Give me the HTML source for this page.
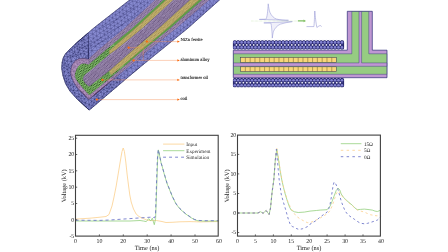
<!DOCTYPE html>
<html><head><meta charset="utf-8"><title>figure</title>
<style>html,body{margin:0;padding:0;background:#fff;overflow:hidden}svg{display:block}</style></head>
<body>
<svg width="448" height="252" viewBox="0 0 448 252">
<rect width="448" height="252" fill="#fff"/>
<defs>
<clipPath id="clip3d"><rect x="0" y="0" width="224" height="126"/></clipPath>
</defs>
<g clip-path="url(#clip3d)">
<path d="M137.3 -6.0L129.6 0.0L93.8 28.0L75.3 44.0L68.7 50.3L65.3 54.0L63.1 58.0L62.1 62.6L61.6 68.0L62.4 72.6L63.0 76.0L65.5 83.6L70.0 91.2L76.3 98.2L83.3 104.6L87.1 108.0L89.2 110.2L136.5 70.0L188.1 28.0L219.5 0.0L226.2 -6.0Z" fill="#878ad1" stroke="#23245c" stroke-width="0.5" stroke-linejoin="round"/>
<path d="M97.9 50.6l3.3 -2.8M117.8 23.5l0.4 3.9M88.5 50.2l0.1 4.4M125.9 6.1l-3.2 -0.7M96.7 36.0l0.7 4.0M119.2 8.1l-3.5 2.7M118.3 27.3l-0.1 6.5M133.9 9.2l0.9 4.6M130.6 8.2l3.4 1.0M90.9 45.7l-2.5 4.5M119.4 12.4l3.2 -2.6M130.9 12.1l3.1 -2.9M109.5 20.6l0.9 4.4M116.4 19.2l5.0 1.3M88.4 32.6l3.3 -2.9M92.8 34.1l0.6 4.2M88.4 45.8l0.2 13.1M115.8 10.8l-3.5 2.7M102.7 25.8l-0.7 -4.2M96.1 31.1l0.7 4.9M105.7 23.6l-0.3 -4.7M122.7 9.8l-3.4 -1.7M140.7 3.4l-2.7 -4.4M136.9 2.1l3.8 1.3M112.5 18.0l1.4 4.3M144.0 1.7l-1.6 -2.7M101.3 47.8l3.4 -2.8M129.6 0.0l-3.5 2.7M133.9 9.2l3.5 -2.5M106.9 28.2l3.5 -3.2M91.9 50.5l-3.5 -0.3M99.9 33.0l1.0 4.7M97.5 40.0l4.7 1.2M121.9 25.1l-0.4 6.0M96.1 31.1l-1.0 -4.1M98.4 43.7l2.9 4.1M99.4 28.5l-0.8 -4.3M147.9 2.7l-1.1 -3.7M115.6 14.8l-3.3 -1.3M93.3 38.3l3.4 -2.3M137.4 6.7l0.7 4.8M122.7 9.8l3.2 -3.7M132.6 1.1l4.2 1.1M140.7 3.4l0.5 4.5M120.2 16.4l1.3 4.1M104.6 45.0l3.4 -2.8M124.6 17.7l0.6 4.1M95.1 27.0l-3.4 2.8M100.9 37.7l4.6 1.2M141.2 7.9l-0.3 5.5M91.2 41.3l-2.8 0.1M109.5 20.6l-4.1 -1.7M96.7 36.0l3.2 -3.0M98.4 43.7l3.7 -2.5M91.2 41.3l-0.2 4.4M137.4 6.7l3.3 -3.2M115.6 14.8l0.8 4.5M121.9 25.1l6.2 0.2M124.6 17.7l2.3 -2.3M102.7 25.8l1.1 5.0M102.1 41.2l3.5 -2.3M92.8 34.1l-4.4 3.0M105.4 18.9l-3.5 2.7M124.9 28.2l3.2 -3.0M123.2 13.6l1.5 4.0M108.0 42.2l3.4 -2.8M88.5 54.5l3.0 2.0M141.0 13.3l3.2 -3.0M144.3 5.4l-0.1 4.9M105.6 38.8l2.4 3.4M94.7 53.6l3.2 -3.0M110.4 25.0l0.6 3.7M99.9 33.0l3.9 -2.2M128.1 25.3l3.2 -3.0M90.9 45.7l4.5 0.8M91.9 50.5l2.8 3.1M147.9 2.7l-0.5 4.7M120.2 16.4l3.0 -2.8M114.8 36.6l3.4 -2.8M113.9 22.3l0.6 3.4M105.7 23.6l1.1 4.6M102.0 21.6l-3.5 2.7M134.8 13.7l-0.3 5.6M94.7 42.8l3.7 0.9M132.6 1.1l1.0 -2.1M105.6 38.8l2.7 -2.2M111.2 33.2l3.6 3.4M91.2 41.3l2.1 -3.0M91.9 50.5l3.5 -3.9M136.9 2.1l-3.3 -3.1M125.9 6.1l0.5 5.2M125.3 21.7l2.8 -2.1M98.5 24.3l-3.5 2.7M119.4 12.4l-3.7 -1.6M125.9 6.1l0.3 -3.4M131.3 22.3l3.2 -3.0M128.9 3.9l0.7 -3.9M108.3 36.6l2.8 -3.4M130.6 8.2l0.3 3.9M111.2 33.2l3.7 -2.9M90.9 45.7l-2.5 0.1M128.1 19.6l3.2 2.7M95.4 46.5l3.0 -2.8M118.1 33.8l3.4 -2.8M123.2 13.6l3.2 -2.4M133.6 5.9l0.3 3.3M116.4 19.2l1.4 4.2M112.5 18.0l-3.6 -1.8M93.3 38.3l4.1 1.7M134.5 19.3l3.2 -3.0M138.1 11.4l-0.4 4.9M114.5 25.7l3.8 1.6M114.8 30.3l3.3 3.6M130.9 12.1l4.0 1.7M110.4 25.0l3.5 -2.6M103.8 30.8l0.6 3.3M126.4 11.2l4.2 -3.0M128.9 3.9l1.7 4.3M144.0 1.7l2.7 -2.7M128.1 19.6l3.9 -2.7M102.1 41.2l2.5 3.8M117.8 23.5l4.1 1.6M121.5 31.0l3.4 -2.8M136.9 2.1l0.5 4.5M97.5 40.0l1.0 3.7M118.3 27.3l3.3 3.7M147.9 2.7l3.3 -3.7M92.8 34.1l-1.1 -4.3M113.9 22.3l2.5 -3.1M114.8 30.3l3.4 -3.0M104.3 34.0l4.0 2.6M132.6 1.1l0.9 4.8M132.0 16.9l2.9 -3.1M153.8 1.4l1.8 -2.4M91.2 41.3l-2.8 -4.3M119.4 12.4l0.7 4.0M96.1 31.1l3.8 1.9M118.3 27.3l3.7 -2.3M105.7 23.6l-3.8 -2.0M97.5 40.0l3.5 -2.4M130.6 8.2l3.0 -2.4M155.5 -1.0l-4.4 0.0M121.4 20.6l3.8 1.2M91.9 50.5l-3.4 4.1M133.6 5.9l3.3 -3.7M121.9 25.1l3.0 3.2M99.4 28.5l-4.3 -1.6M116.4 19.2l3.8 -2.8M126.4 11.2l0.5 4.1M144.2 10.4l3.2 -3.0M100.9 37.7l3.4 -3.6M107.3 31.6l3.9 1.6M125.3 21.7l2.9 3.5M140.7 3.4l3.6 2.0M108.3 36.6l3.1 2.8M124.6 17.7l3.5 1.9M141.2 7.9l2.9 2.5M103.8 30.8l3.1 -2.6M126.9 15.4l5.0 1.5M122.7 9.8l0.5 3.9M95.4 46.5l2.5 4.1M121.9 25.1l3.3 -3.3M111.0 28.7l3.9 1.5M88.4 37.0l0.0 4.4M99.4 28.5l4.4 2.2M90.9 45.7l1.0 4.8M91.9 50.5l-0.4 6.1M93.3 38.3l-4.9 -1.3M109.5 20.6l3.0 -2.6M141.2 7.9l3.1 -2.4M102.7 25.8l4.2 2.4M106.9 28.2l4.1 0.5M147.4 7.4l3.2 -3.0M126.1 2.7l-3.5 2.7M144.0 1.7l3.9 1.0M96.1 31.1l3.3 -2.6M144.3 5.4l3.1 2.0M90.9 45.7l3.8 -2.9M136.9 2.1l1.1 -3.1M142.4 -1.0l-4.4 0.0M110.4 25.0l4.1 0.8M150.6 4.4l3.2 -3.0M119.4 12.4l-0.2 -4.3M132.0 16.9l2.6 2.4M122.7 9.8l0.0 -4.4M140.7 3.4l1.7 -4.4M96.7 36.0l4.2 1.7M137.7 16.3l3.2 -3.0M94.7 42.8l2.7 -2.8M88.5 50.2l0.1 8.8M144.3 5.4l3.6 -2.7M133.9 9.2l4.2 2.2M105.7 23.6l4.7 1.4M112.5 18.0l-0.2 -4.5M114.5 25.7l0.4 4.5M134.8 13.7l2.9 2.6M115.6 14.8l0.2 -4.0M114.8 30.3l-0.1 6.4M109.5 20.6l4.4 1.8M99.4 28.5l3.3 -2.8M92.8 34.1l4.0 1.9M100.9 37.7l1.2 3.5M125.9 6.1l4.7 2.2M138.0 -1.0l-4.4 0.0M150.6 4.4l0.6 -5.4M109.5 20.6l-0.6 -4.4M102.7 25.8l-4.2 -1.5M128.9 3.9l-2.7 -1.2M134.8 13.7l3.3 -2.3M112.5 18.0l3.9 1.2M102.7 25.8l3.1 -2.2M114.5 25.7l3.4 -2.3M104.3 34.0l1.2 4.8M99.9 33.0l4.4 1.1M133.6 5.9l3.8 0.8M133.6 -1.0l-4.0 1.0M96.1 31.1l-4.4 -1.3M98.4 43.7l6.2 1.3M137.4 6.7l3.8 1.2M138.1 11.4l2.9 1.9M92.8 34.1l-4.4 -1.4M120.2 16.4l4.5 1.2M117.8 23.5l3.6 -2.9M151.2 -1.0l-4.4 0.0M88.5 54.5l0.1 4.4M103.8 30.8l3.5 0.8M88.4 32.6l0.0 4.4M128.9 3.9l4.7 1.9M102.1 41.2l5.9 1.0M121.4 20.6l0.5 4.5M104.3 34.0l2.9 -2.4M91.2 41.3l3.6 1.5M138.1 11.4l3.1 -3.6M115.6 14.8l4.5 1.7M105.7 23.6l3.7 -3.0M88.6 58.9l2.9 -2.3M107.3 31.6l1.1 5.0M112.3 13.5l-3.5 2.7M108.3 36.6l-0.3 5.6M153.8 1.4l-2.6 -2.4M92.8 34.1l3.3 -2.9M88.4 41.4l0.0 4.4M125.9 6.1l3.0 -2.1M94.7 42.8l0.7 3.8M119.4 12.4l3.7 1.2M126.9 15.4l1.2 4.2M123.2 13.6l3.8 1.7M146.8 -1.0l-4.4 0.0M99.4 28.5l0.5 4.4M121.4 20.6l3.2 -2.9M108.9 16.2l-3.5 2.7M111.0 28.7l0.2 4.5M111.2 33.2l0.2 6.2M112.5 18.0l3.1 -3.2M107.3 31.6l3.7 -2.9M122.7 5.4l-3.5 2.7M140.7 3.4l3.3 -1.7M126.4 11.2l4.5 0.9M91.9 50.5l6.0 0.2M91.5 56.6l3.2 -3.0M147.9 2.7l2.7 1.7M106.9 28.2l0.4 3.4M90.9 45.7l-2.5 -4.3M128.1 19.6l0.0 5.7M144.0 1.7l0.3 3.8M126.9 15.4l3.9 -3.3M113.9 22.3l3.9 1.1M111.0 28.7l3.5 -3.0M88.4 45.8l0.1 4.4M93.3 38.3l1.4 4.5M132.6 1.1l-3.0 -1.1M128.9 3.9l3.8 -2.9M122.7 9.8l3.7 1.4M130.9 12.1l1.1 4.8M95.4 46.5l5.8 1.3M111.4 39.4l3.4 -2.8M132.0 16.9l-0.6 5.4M115.6 14.8l3.8 -2.3M186.4 19.3l-3.3 2.8M199.8 10.1l-0.3 -2.1M180.7 30.4l-0.4 4.0M202.8 5.1l-3.3 2.8M143.6 56.5l4.2 2.2M124.7 77.4l-1.4 3.9M129.9 75.6l3.3 -2.8M160.1 50.8l3.4 -2.7M137.6 66.1l5.6 -1.5M161.4 47.2l-1.8 -6.0M146.7 54.0l3.8 -2.8M146.6 61.8l3.4 -2.7M146.7 54.0l4.0 1.1M193.5 15.6l2.7 -4.8M199.8 10.1l3.7 0.8M120.0 84.0l3.3 -2.7M150.0 59.0l3.4 -2.7M203.6 10.9l2.9 0.7M150.7 55.2l3.7 -2.9M183.1 22.1l-3.3 2.8M183.9 27.4l-0.3 4.3M203.6 10.9l-0.7 -5.8M216.2 3.0l1.7 -4.0M144.0 60.9l2.6 0.9M200.6 14.3l-0.6 3.1M150.5 51.3l3.5 -3.1M179.8 24.9l-3.3 2.8M131.0 67.7l1.5 -4.6M150.5 51.3l3.9 1.0M187.6 25.0l-0.7 3.9M197.8 16.6l-1.6 -5.8M150.5 51.3l-1.2 -1.9M193.5 15.6l-3.9 0.9M164.3 44.7l2.5 0.7M137.5 61.8l5.7 2.7M154.0 48.2l4.0 1.8M170.2 42.6l3.4 -2.7M153.3 56.3l3.4 -2.7M143.6 56.5l-1.0 -1.6M210.1 5.9l-4.0 -3.6M139.9 67.3l3.4 -2.7M173.5 39.9l3.4 -2.7M159.5 41.3l-3.4 2.7M131.0 67.7l-5.2 1.0M137.5 61.8l-1.6 -1.4M122.5 71.4l-6.7 5.6M176.5 27.8l-3.4 2.7M142.6 54.8l-3.4 2.8M127.8 75.1l2.1 0.5M206.7 8.0l-3.9 -2.8M167.6 41.3l2.5 1.3M144.0 60.9l3.7 -2.3M189.7 16.5l-3.3 2.8M156.1 44.0l-3.4 2.7M154.4 52.3l2.3 1.3M210.1 5.9l-0.4 2.8M120.8 75.8l-3.5 2.2M126.7 70.3l-4.1 1.1M126.7 70.3l6.5 2.5M158.0 50.0l-1.9 -6.0M164.3 44.7l3.4 -3.3M169.7 33.2l-3.4 2.7M183.9 27.4l-0.8 -5.3M197.8 16.6l-1.1 3.7M176.9 37.1l3.4 -2.7M158.0 50.0l2.1 0.9M131.0 67.7l5.5 2.3M119.2 74.2l-1.9 3.8M124.7 77.4l3.1 -2.3M171.1 38.8l-4.8 -2.9M177.3 32.9l-0.8 -5.2M163.4 48.1l3.4 -2.7M196.7 20.3l3.2 -2.9M173.7 36.0l-4.0 -2.9M143.6 56.5l0.4 4.4M180.2 34.4l3.4 -2.7M193.5 15.6l4.3 1.0M152.7 46.6l-3.4 2.7M190.5 22.0l3.0 1.2M183.6 31.7l3.4 -2.7M164.3 44.7l-4.7 -3.4M212.9 5.9l0.6 -6.9M166.8 45.3l3.4 -2.7M167.6 41.3l-4.7 -2.8M167.6 41.3l3.5 -2.6M166.3 35.9l-3.4 2.7M199.8 10.1l0.8 4.2M177.3 32.9l2.9 1.5M149.3 49.3l-3.4 2.7M161.4 47.2l2.1 0.9M154.4 52.3l3.6 -2.3M124.0 73.7l3.8 1.4M146.7 54.0l-0.7 -2.0M154.0 48.2l2.1 -4.2M171.1 38.8l2.6 -2.7M162.9 38.6l-3.4 2.7M147.7 58.6l2.2 0.4M200.0 17.4l3.2 -2.9M203.6 10.9l-0.4 3.6M180.7 30.4l3.0 1.3M158.0 50.0l3.4 -2.8M139.9 59.4l-0.6 -1.8M187.0 28.9l3.3 -2.8M139.9 67.3l-6.7 5.5M120.0 79.6l3.3 1.6M203.2 14.5l3.2 -2.9M129.2 65.9l-3.4 2.8M154.0 48.2l0.4 4.1M190.3 26.1l3.2 -2.9M143.6 56.5l3.1 -2.4M154.0 48.2l-4.7 1.2M190.5 22.0l3.4 -2.1M173.7 36.0l3.6 -3.1M120.8 75.8l1.7 -4.4M125.9 68.6l-3.3 2.8M187.6 25.0l-1.3 -5.8M183.9 27.4l3.1 1.5M203.6 10.9l-4.0 -3.0M210.1 5.9l-0.7 -6.5M177.3 32.9l3.3 -2.5M161.4 47.2l2.9 -2.6M194.0 19.9l3.9 -3.4M134.1 65.3l3.5 0.8M171.1 38.8l2.4 1.1M139.3 57.6l-3.4 2.8M150.7 55.2l-0.7 3.9M180.7 30.4l-0.8 -5.4M131.0 67.7l-1.8 -1.8M134.1 65.3l-1.5 -2.2M200.6 14.3l-4.4 -3.5M206.7 8.0l-0.6 -5.7M147.7 58.6l3.0 -3.4M180.7 30.4l3.2 -3.0M193.5 23.2l3.2 -2.9M213.6 -1.0l-4.2 0.5M154.4 52.3l-1.1 4.0M124.0 73.7l-1.5 -2.3M126.7 70.3l-0.8 -1.7M194.0 19.9l-4.3 -3.5M126.7 70.3l3.2 5.3M212.9 5.9l3.2 -2.9M137.5 61.8l2.4 -2.4M137.6 66.1l2.3 1.2M135.9 60.4l-3.4 2.8M173.7 36.0l3.2 1.1M123.3 81.2l3.3 -2.8M206.7 8.0l2.9 0.8M124.0 73.7l2.7 -3.4M190.5 22.0l-4.1 -2.7M146.7 54.0l1.0 4.6M120.8 75.8l3.8 1.6M183.9 27.4l3.8 -2.3M115.9 77.0l1.4 1.0M173.7 36.0l-0.6 -5.6M194.0 19.9l2.8 0.4M132.6 63.1l-3.4 2.8M193.5 15.6l0.4 4.3M120.8 75.8l-0.8 3.9M199.8 10.1l-3.6 0.7M187.6 25.0l2.9 -3.0M124.7 77.4l1.9 1.1M161.4 47.2l-5.2 -3.3M216.2 3.0l3.2 -2.9M167.6 41.3l-1.3 -5.5M197.8 16.6l2.1 0.9M144.0 60.9l-0.7 3.6M146.0 52.1l-3.4 2.8M177.3 32.9l-0.4 4.2M126.7 70.3l4.4 -2.7M193.5 15.6l-0.6 -2.0M124.0 73.7l0.7 3.7M150.5 51.3l0.2 3.9M164.3 44.7l-0.8 3.4M219.4 0.1l-1.5 -1.1M117.3 78.0l2.7 1.6M147.7 58.6l-1.1 3.2M131.0 67.7l3.0 -2.4M206.4 11.6l3.2 -2.9M206.7 8.0l3.4 -2.0M212.9 5.9l-3.5 -6.4M139.9 67.3l-10.0 8.4M216.2 3.0l-2.6 -4.0M139.9 59.4l3.4 5.1M120.0 79.6l0.0 4.3M200.6 14.3l2.6 0.3M122.5 71.4l-3.3 2.8M187.6 25.0l2.6 1.0M199.5 8.0l-3.3 2.8M126.7 70.3l1.1 4.8M127.8 75.1l-1.2 3.3M136.5 70.0l-3.3 2.8M217.9 -1.0l-4.3 0.0M154.0 48.2l-1.3 -1.5M167.6 41.3l-0.8 4.0M146.7 54.0l-4.1 0.8M150.5 51.3l-4.5 0.8M197.8 16.6l2.8 -2.3M209.7 8.7l3.2 -2.9M139.9 59.4l-3.9 0.9M134.1 65.3l3.4 -3.5M196.3 10.8l-3.3 2.8M143.6 56.5l-4.3 1.1M171.1 38.8l-1.0 3.8M120.8 75.8l3.1 -2.1M137.5 61.8l0.1 4.3M209.4 -0.5l-3.3 2.8M158.0 50.0l-1.3 3.6M137.5 61.8l-4.9 1.3M136.5 70.0l3.4 -2.7M119.2 74.2l-3.3 2.8M131.0 67.7l2.2 5.1M139.9 59.4l3.7 -3.0M120.8 75.8l-1.7 -1.6M171.1 38.8l-1.4 -5.6M187.6 25.0l-4.5 -2.9M139.9 59.4l4.1 1.5M200.6 14.3l2.9 -3.3M126.6 78.4l3.3 -2.8M124.7 77.4l-4.7 2.3M210.1 5.9l2.8 -0.1M156.7 53.6l3.4 -2.7M137.6 66.1l-1.1 3.9M190.5 22.0l-0.3 4.1M193.0 13.6l-3.3 2.8M173.7 36.0l-0.2 3.8M164.3 44.7l-1.3 -6.1M150.7 55.2l2.6 1.1M206.7 8.0l-0.3 3.7M143.2 64.5l3.4 -2.7M183.9 27.4l-4.1 -2.4M190.5 22.0l-0.9 -5.6M180.7 30.4l-4.1 -2.6M203.6 10.9l3.2 -3.0M206.1 2.3l-3.3 2.8M161.4 47.2l-1.3 3.6M173.1 30.5l-3.4 2.7M194.0 19.9l-0.5 3.3M134.1 65.3l2.4 4.7M177.3 32.9l-4.2 -2.5" stroke="#1f2058" stroke-opacity="0.62" stroke-width="0.4" fill="none"/>
<path d="M77.7 90.6l1.3 3.7M64.3 60.2l0.6 3.0M96.8 96.7l1.0 -1.8M64.3 71.7l-1.4 4.1M65.0 82.1l1.4 3.0M64.1 65.0l-1.9 -2.5M88.4 42.0l0.0 -3.3M67.7 56.7l2.7 -0.9M67.7 56.7l-0.7 4.4M86.3 48.4l2.2 3.6M66.4 85.1l1.7 2.9M75.3 44.0l2.5 -2.2M98.6 91.3l-2.6 2.1M70.4 55.8l-4.5 -2.4M79.0 94.3l2.5 -2.4M85.9 57.4l1.2 -1.5M83.7 51.3l0.5 2.3M110.5 84.8l3.3 -3.1M85.0 46.5l1.3 1.8M110.5 84.8l1.7 2.8M100.8 92.2l0.3 -3.0M96.1 93.5l-2.6 2.1M82.2 45.0l2.1 -2.5M82.2 45.0l-0.3 3.0M78.9 100.6l2.5 2.3M113.8 81.7l-0.0 3.0M85.9 57.4l2.6 1.2M68.1 84.8l1.1 -2.3M84.4 42.5l0.6 4.0M81.4 102.8l2.5 2.2M69.2 82.5l1.4 2.7M69.5 51.4l0.8 4.4M103.9 93.5l3.2 -2.0M69.1 67.5l2.0 1.0M79.1 89.6l-2.1 -2.6M103.9 93.5l2.6 2.0M107.0 91.6l2.1 -2.7M112.2 87.6l-0.7 3.7M71.1 61.3l1.1 4.0M78.3 52.4l1.0 -2.4M78.3 52.4l2.4 1.4M83.6 39.7l-0.7 -2.3M98.8 102.0l2.5 -2.2M69.1 75.6l2.0 -0.4M64.3 71.7l-1.9 0.8M71.1 68.5l1.1 -3.2M73.5 90.5l3.5 -3.6M69.5 51.4l-1.4 -0.5M85.5 102.8l2.9 -3.7M65.2 76.0l-1.2 2.9M83.6 39.7l4.8 2.3M78.5 44.1l-3.2 -0.1M89.2 104.4l-2.9 2.9M76.8 96.6l-0.3 1.7M85.9 57.4l-0.0 1.4M83.6 39.7l0.8 2.8M89.2 104.4l-0.8 -5.3M76.1 54.6l2.2 -2.2M76.1 54.6l2.0 0.5M68.4 72.4l0.7 3.2M100.8 92.2l3.0 1.3M96.2 104.2l2.5 -2.2M88.4 35.3l-3.0 -0.1M73.4 53.6l2.7 1.0M74.5 92.6l3.2 -2.0M87.9 33.1l-5.0 4.4M70.8 71.8l0.4 -3.3M66.5 78.5l-0.2 3.0M72.9 46.3l-2.4 2.3M83.6 39.7l1.8 -4.5M78.9 100.6l9.8 9.1M66.4 81.5l0.0 3.6M68.4 64.8l2.7 -3.5M69.1 75.6l3.1 2.7M70.5 48.6l-2.4 2.3M114.0 89.1l2.5 -2.2M64.0 67.8l-2.2 1.4M96.8 96.7l-0.8 -3.2M82.0 101.2l2.6 -2.3M64.3 60.2l-0.2 -4.0M77.7 90.6l1.4 -1.1M116.6 86.9l2.5 -2.2M81.7 95.8l2.1 -1.5M85.9 58.8l2.7 -0.2M102.4 96.8l1.4 1.0M65.2 76.0l1.4 2.5M75.3 44.0l7.6 -6.6M74.6 47.2l2.6 -1.0M74.6 47.2l2.9 1.6M84.6 98.9l0.8 3.9M107.0 88.4l-3.2 -1.4M61.8 65.9l0.0 3.3M69.5 51.4l0.9 -2.8M81.7 40.6l-3.9 1.2M88.6 58.7l-0.0 -3.3M77.2 46.2l1.3 -2.1M70.9 89.3l2.6 1.3M64.3 71.7l2.7 -2.2M61.8 69.2l0.6 3.3M111.4 80.6l-2.6 2.1M67.0 69.4l2.2 -1.9M70.4 55.8l2.3 0.4M76.8 96.6l-2.6 -0.8M97.8 94.8l3.0 -2.6M97.8 94.8l0.8 3.4M108.9 82.8l-2.6 2.1M88.4 38.7l0.0 -3.3M80.7 53.8l1.9 4.8M100.8 92.2l2.9 -2.8M70.6 85.2l-2.5 2.8M68.1 88.0l1.7 2.9M76.1 54.6l0.2 1.7M100.8 92.2l1.6 4.5M88.4 35.3l-0.5 -2.3M73.4 53.6l1.2 -1.6M69.8 90.8l2.2 2.5M80.8 98.6l-1.9 1.9M66.5 78.5l2.5 -3.0M68.4 72.4l2.4 -0.5M64.1 65.0l2.8 1.3M64.3 71.7l4.1 0.7M90.9 97.7l-2.5 1.4M117.1 82.5l-3.1 -4.0M113.8 81.7l0.2 -3.2M73.5 90.5l-1.6 2.8M70.6 85.2l0.3 4.1M66.4 81.5l-1.3 0.6M64.9 63.2l3.5 1.6M93.9 102.4l2.9 -0.8M68.4 64.8l0.7 2.7M98.7 98.3l0.1 3.8M72.2 84.1l1.3 2.4M64.0 67.8l-2.2 -1.9M77.7 90.6l3.7 1.3M81.7 95.8l4.4 0.9M72.6 56.3l-1.5 5.1M102.4 96.8l-1.1 3.1M85.5 102.8l-4.1 0.1M74.6 47.2l-0.1 4.8M107.0 88.4l-0.7 -3.5M81.7 40.6l-1.4 -0.9M117.1 82.5l-0.5 4.5M72.6 56.3l3.6 4.0M70.4 55.8l3.0 -2.2M79.0 94.3l2.7 1.5M70.4 55.8l0.1 2.0M94.7 99.3l-3.8 -1.6M66.9 66.3l0.1 3.1M80.7 53.8l-1.5 5.0M93.5 95.6l-2.6 2.1M92.0 105.7l1.9 -3.4M120.0 81.8l-2.8 -3.8M71.7 50.0l1.6 3.6M64.1 65.0l0.9 -1.8M87.2 55.9l1.4 -0.6M64.1 65.0l-0.1 2.8M89.2 104.4l2.8 1.3M83.8 105.1l2.5 2.2M84.2 53.6l1.7 3.8M117.1 82.5l0.0 -4.5M70.6 85.2l1.6 -1.1M86.3 107.3l2.4 2.4M109.1 88.9l3.1 -1.3M75.1 84.2l-1.7 -2.9M79.3 50.0l2.7 -2.0M79.3 50.0l4.4 1.3M112.2 87.6l1.5 -2.9M101.3 99.9l2.5 -2.2M66.4 81.5l2.8 1.0M82.0 48.0l3.0 -1.5M110.5 84.8l-1.6 -2.0M76.8 96.6l2.2 -2.3M74.6 47.2l0.7 -3.2M84.6 98.9l1.5 -2.2M103.9 97.7l2.5 -2.2M82.9 37.4l-5.0 4.4M79.0 94.3l-0.1 2.2M68.1 51.0l-2.3 2.5M94.7 99.3l-1.2 -3.7M74.0 62.5l2.3 -2.3M76.3 56.4l1.8 -1.2M65.8 53.4l-1.8 2.8M77.0 87.0l-1.9 -2.7M78.1 55.2l2.7 -1.3M120.0 81.8l0.0 -3.3M107.0 91.6l1.9 1.8M87.2 55.9l1.4 2.8M89.2 104.4l2.3 -3.1M88.5 52.0l-0.0 -3.3M81.7 40.6l1.8 -0.8M63.0 75.7l1.0 3.2M103.8 89.4l3.3 2.1M72.2 65.4l1.7 -2.8M74.5 52.0l3.8 0.4M64.9 63.2l-2.8 -0.7M107.0 88.4l2.2 0.4M84.2 53.6l-1.6 5.0M69.1 75.6l-0.5 3.8M77.5 48.8l1.8 1.2M84.4 42.5l4.0 -0.5M119.1 84.8l0.9 -2.9M66.4 81.5l1.8 3.3M110.5 84.8l0.9 -4.1M84.6 98.9l3.8 0.2M67.0 61.1l4.2 0.2M68.1 84.8l-0.0 3.1M97.8 94.8l-1.8 -1.4M85.5 102.8l3.7 1.7M103.9 93.5l0.0 4.2M78.5 44.1l3.2 -3.5M84.2 53.6l4.3 -1.6M78.5 44.1l3.7 0.9M78.3 52.4l-0.2 2.7M107.0 91.6l-0.6 4.0M76.3 56.4l3.0 2.4M64.3 71.7l-2.5 -2.5M81.7 95.8l2.9 3.0M85.0 46.5l3.4 -1.2M103.8 89.4l3.2 -1.0M103.8 89.4l0.1 4.1M103.7 87.0l-2.6 2.1M74.5 52.0l3.0 -3.2M74.5 52.0l1.5 2.6M85.4 35.3l-2.5 2.2M82.0 101.2l-0.7 1.6M84.4 42.5l4.0 2.8M77.2 46.2l2.7 1.4M65.2 76.0l-2.2 -0.3M74.5 92.6l-0.3 3.3M88.5 55.3l-0.0 -3.3M94.7 99.3l3.9 -1.1M85.9 57.4l-3.3 1.2M86.1 96.7l-2.3 -2.4M62.4 72.5l0.6 3.3M71.7 50.0l-1.2 -1.4M67.0 61.1l3.5 -3.3M67.0 61.1l1.4 3.7M106.3 84.9l-2.6 2.1M86.3 48.4l2.1 -3.0M91.5 101.3l-3.1 -2.2M97.8 94.8l0.8 -3.5M91.2 108.5l2.5 -2.2M73.4 53.6l-0.7 2.7M78.9 96.5l0.0 4.0M87.9 33.1l-2.5 2.2M72.1 78.3l-1.1 -3.1M72.0 93.4l2.2 2.5M66.5 78.5l-2.6 0.4M88.4 99.1l-2.3 -2.4M81.4 102.8l7.3 6.8M109.0 93.4l2.5 -2.2M93.9 102.4l2.4 1.8M96.8 101.5l1.9 -3.3M79.3 58.8l3.3 -0.2M67.7 56.7l-3.6 -0.5M88.7 109.7l2.5 -1.1M82.0 101.2l-3.1 -0.6M70.9 89.3l2.6 -2.7M112.2 87.6l4.4 -0.6M77.2 46.2l0.3 2.6M71.1 61.3l5.2 -1.1M73.4 81.4l-1.3 -3.1M94.7 99.3l2.0 2.2M73.5 86.6l1.6 -2.4M109.1 86.8l-2.8 -1.9M71.7 50.0l1.2 -3.7M83.7 51.3l4.8 0.7M64.1 65.0l-2.3 0.8M78.9 96.5l1.9 2.1M110.5 84.8l3.2 -0.1M68.4 72.4l2.7 2.8M92.0 105.7l1.7 0.6M64.3 71.7l0.8 4.3M82.2 45.0l2.7 1.6M64.9 63.2l2.0 -2.1M73.5 90.5l-3.7 0.3M66.4 81.5l-2.4 -2.6M64.9 63.2l1.9 3.1M89.2 104.4l2.0 4.1M67.0 69.4l1.4 2.9M91.5 101.3l2.4 1.1M68.1 84.8l2.5 0.4M93.9 102.4l-0.2 4.0M75.3 44.0l12.6 -10.9M109.1 88.9l2.4 2.3M68.4 64.8l3.8 0.5M67.7 56.7l-1.8 -3.3M74.5 92.6l4.5 1.7M81.7 40.6l1.1 -3.1M69.2 82.5l2.9 -4.2M80.7 53.8l3.5 -0.2M82.0 48.0l4.3 0.4M112.2 87.6l1.9 1.5M113.7 84.6l3.4 -2.2M71.1 61.3l2.8 1.2M109.1 86.8l3.1 0.7M88.4 45.3l-0.0 -3.3M73.5 86.6l3.5 0.4M106.4 95.6l2.5 -2.2M78.9 96.5l2.8 -0.7M76.3 60.3l3.0 -1.5M64.3 60.2l-2.2 2.4M103.8 89.4l-2.6 -0.3M67.0 69.4l4.2 -0.9M64.1 56.2l-1.3 3.1M69.5 51.4l-3.7 2.0M80.7 53.8l2.9 -2.5M80.3 39.6l-2.5 2.2M92.0 105.7l-0.8 2.8M120.0 78.5l-2.8 -0.5M83.6 39.7l4.8 -1.1M81.7 40.6l2.6 1.9M91.5 101.3l3.3 -1.9M89.2 104.4l-0.5 5.2M91.5 101.3l0.5 4.4M88.4 48.7l-0.0 -3.3M88.4 38.7l-3.0 -3.4M81.4 91.9l-2.4 -2.4M64.0 78.9l1.0 3.2M65.2 76.0l3.2 -3.6M79.3 50.0l1.4 3.8M101.2 89.2l-2.6 2.1M74.5 92.6l2.3 4.1M79.9 47.6l2.1 0.5M69.2 82.5l4.2 -1.2M109.1 86.8l1.4 -2.1M82.0 48.0l1.7 3.3M66.5 78.5l2.0 0.9M109.1 86.8l-0.0 2.1M82.9 37.4l-2.5 2.2M68.5 79.4l0.6 3.1M77.2 46.2l-1.9 -2.2M96.8 96.7l-3.3 -1.1M82.0 101.2l3.4 1.6M64.3 60.2l-1.5 -0.9M103.8 89.4l-0.0 -2.4M77.7 90.6l-0.7 -3.7M81.7 95.8l-0.3 -3.9M65.2 76.0l3.9 -0.4M67.0 69.4l3.8 2.4M85.5 102.8l0.9 4.5M73.5 90.5l4.2 0.1M117.1 82.5l2.9 -0.6M81.7 40.6l0.5 4.4M97.8 94.8l4.6 1.9M107.0 88.4l2.2 -1.6M107.0 88.4l0.1 3.1M77.5 48.8l2.3 -1.2M80.8 98.6l3.8 0.2M77.5 48.8l0.8 3.6M74.2 95.9l2.2 2.5M72.2 84.1l1.3 -2.8M79.9 47.6l2.4 -2.6M66.4 81.5l2.2 -2.1M79.9 47.6l-0.6 2.5M76.4 98.3l2.5 2.3M98.7 98.3l3.8 -1.5M113.8 81.7l-2.3 -1.1M70.6 85.2l2.9 1.4M83.8 94.3l-2.4 -2.4M70.5 57.8l2.2 -1.5M68.1 84.8l-1.7 0.3M78.5 44.1l-0.7 -2.2M70.5 57.8l0.7 3.5M98.7 98.3l2.7 1.6M102.4 96.8l1.4 -3.2M72.6 56.3l3.4 -1.6M73.5 86.6l0.1 4.0M72.6 56.3l3.6 0.1M78.5 44.1l1.4 3.5M93.7 106.4l2.5 -2.2M85.5 102.8l-1.6 2.3M73.5 90.5l1.0 2.0M76.3 56.4l0.0 3.9M71.1 75.1l-0.3 -3.3M76.4 98.3l12.2 11.3M70.9 89.3l-1.1 1.6M64.0 67.8l2.9 -1.5M64.0 67.8l3.0 1.6M117.1 82.5l2.0 2.3M75.3 44.0l-2.4 2.3M78.1 55.2l1.2 3.6M66.9 66.3l1.6 -1.5M66.9 66.3l2.3 1.2M111.5 91.2l2.5 -2.2M96.8 101.5l2.0 0.5M80.8 98.6l1.2 2.6M82.6 58.6l3.3 0.2M71.7 50.0l2.9 -2.8M72.2 84.1l3.0 0.1M71.7 50.0l2.8 2.1M74.5 92.6l-2.5 0.8M62.1 62.5l-0.3 3.3M87.2 55.9l1.3 -3.9M64.3 60.2l2.7 0.9M84.2 53.6l3.0 2.3M96.8 96.7l1.8 1.6M114.0 78.5l-2.6 2.1M67.7 56.7l2.8 1.1M86.3 48.4l2.2 0.3M91.5 101.3l-0.6 -3.6M78.9 96.5l-2.4 1.8M100.8 92.2l-2.2 -0.9M113.8 81.7l3.4 0.8M110.5 84.8l-4.2 0.1M76.8 96.6l2.1 -0.1M74.6 47.2l-1.7 -0.9M70.9 89.3l-2.8 -1.3M81.7 95.8l-0.9 2.8M64.0 67.8l0.3 3.9M69.5 51.4l2.2 -1.5M69.2 82.5l3.0 1.6M69.5 51.4l3.8 2.2M69.1 67.5l3.1 -2.1M62.8 59.3l-0.7 3.3M96.8 101.5l-0.5 2.7M68.5 79.4l3.6 -1.1M83.7 51.3l2.6 -2.9M117.2 78.0l-3.2 0.5M107.0 91.6l4.5 -0.3M94.7 99.3l2.1 -2.7M94.7 99.3l-0.9 3.0M113.7 84.6l2.9 2.3M64.3 60.2l3.4 -3.5" stroke="#1a1b50" stroke-opacity="0.72" stroke-width="0.45" fill="none"/>
<path d="M82.2 48L98.3 39.5L110 32L125 23L148 8.1M89.7 48.8L120 31.4M100 29L120.4 17.3L135.4 7" stroke="#23245c" stroke-width="0.45" fill="none" opacity="0.6"/>
<path d="M88.4 40L88.8 59" stroke="#23245c" stroke-width="0.4" fill="none" opacity="0.55"/>
<path d="M161.8 -6.0L155.3 0.0L125.2 28.0L98.6 50.0L88.6 59.3L84.0 58.5L79.0 58.8L75.3 60.8L72.6 64.3L71.2 68.0L70.7 72.3L71.2 76.0L73.8 82.3L78.2 88.7L83.3 93.8L88.8 99.5L124.2 70.0L148.5 50.0L176.2 28.0L208.8 0.0L215.8 -6.0Z" fill="#b998c5" stroke="#4a3560" stroke-width="0.35" stroke-linejoin="round"/>
<path d="M98.6 50.0L88.6 59.3L88.6 59.3L88.6 64.7L105.9 50.0L132.9 28.0L163.5 0.0L164.6 -1.0L156.4 -1.0L155.3 0.0L125.2 28.0ZM124.2 70.0L148.5 50.0L176.2 28.0L208.8 0.0L210.0 -1.0L202.8 -1.0L201.7 0.0L170.2 28.0L143.0 50.0L119.7 70.0L110.0 78.0L114.6 78.0Z" fill="#9f8bb1"/>
<path d="M82.9 88.0l-1.8 -2.0M84.0 58.5l2.7 0.5M94.1 95.1l12.5 -10.4M80.1 62.5l0.1 2.5M92.4 92.4l-2.1 1.7M90.9 95.6l1.1 1.3M87.9 98.6l2.0 -0.0M79.3 87.0l-0.8 1.9M89.0 97.9l-1.1 0.7M80.4 90.9l1.9 1.9M76.8 62.0l0.6 2.1M77.5 64.1l-3.2 -2.0M93.5 93.4l0.6 1.7M72.2 75.3l3.0 -1.0M104.0 84.6l2.5 0.1M98.1 90.3l0.6 -3.0M107.7 81.9l-2.7 0.2M82.3 92.8l1.9 1.9M110.7 81.3l-1.6 -2.6M81.2 85.9l-1.7 -2.1M89.0 97.9l1.9 -2.3M94.1 95.1l16.6 -13.9M72.3 69.9l-1.6 2.1M82.0 60.2l0.6 3.7M83.2 91.7l-2.8 -0.8M86.7 94.5l1.6 -0.5M77.5 85.4l1.8 1.6M73.8 71.2l-1.6 4.1M102.4 88.2l-3.7 -0.9M78.4 88.9l9.5 9.6M80.4 90.9l5.7 5.8M83.7 61.1l2.4 -1.0M79.4 83.8l-1.7 -2.1M83.7 61.1l-1.2 2.8M77.5 84.1l2.0 -0.3M107.7 81.9l0.9 1.1M83.2 91.7l3.3 0.3M73.8 71.2l-3.0 0.8M98.1 90.3l-3.6 0.4M79.2 60.6l-0.5 -1.7M94.1 95.1l2.1 -1.7M84.2 94.7l1.9 1.9M77.5 84.1l-2.1 0.4M74.0 67.4l-0.2 3.8M83.2 91.7l1.0 3.0M73.8 82.3l3.9 -0.5M76.9 86.7l1.6 2.2M90.9 95.6l-0.6 -1.4M96.1 93.4l2.1 -1.7M86.3 62.5l-1.1 1.4M83.7 61.1l2.6 1.4M76.9 69.2l1.3 -2.3M77.7 81.7l-1.4 -2.3M87.9 64.5l0.7 -1.7M98.1 90.3l2.2 -0.4M98.2 91.7l-3.7 -0.9M72.8 79.8l3.5 -0.3M79.3 87.0l1.9 -1.1M83.2 91.7l-0.2 -3.7M89.0 97.9l-0.7 -3.9M84.7 90.0l-1.8 -2.0M94.1 95.1l6.2 -5.2M78.2 66.8l2.0 -1.8M75.3 77.0l-0.0 -2.7M77.5 85.4l1.9 -1.6M86.3 62.5l2.3 0.3M98.2 91.7l2.1 -1.7M77.5 85.4l-2.2 -0.9M77.5 84.1l0.0 1.3M89.9 98.6l2.1 -1.7M86.1 60.2l-2.1 -1.7M110.7 81.3l2.1 -1.7M86.1 60.2l0.5 -1.2M94.1 95.1l10.4 -8.7M100.3 89.9l2.1 -1.7M72.2 75.3l-1.5 -3.3M104.0 84.6l-1.1 -0.8M90.9 95.6l-1.0 3.0M80.2 65.0l2.4 -1.1M102.4 88.2l2.1 -1.7M92.0 96.9l2.1 -1.7M75.2 74.3l0.6 -2.6M77.5 64.1l2.7 0.9M74.0 67.4l-2.3 -0.7M82.6 63.9l2.7 -0.1M74.9 66.3l-2.3 -2.1M90.9 95.6l2.6 -2.2M82.0 60.2l1.8 0.9M106.5 84.7l-1.6 -2.6M110.7 81.3l0.9 -3.3M84.0 58.5l-2.7 0.2M112.8 79.5l1.5 -1.5M75.9 71.7l1.0 -2.5M94.1 95.1l14.5 -12.1M72.2 75.3l-0.5 2.0M72.3 69.9l-1.3 -0.6M90.9 95.6l3.2 -0.5M93.5 93.4l-1.1 -1.0M104.4 86.5l2.1 -1.7M102.4 88.2l-1.6 -2.6M114.3 78.0l-2.7 0.0M84.2 94.7l2.4 -2.7M79.2 60.6l2.8 -0.4M106.5 84.7l2.1 -1.7M71.7 66.7l-0.6 2.6M79.2 60.6l2.1 -2.0M76.8 62.0l-0.6 -1.7M86.7 94.5l-0.7 2.1M81.3 58.7l-2.7 0.3M94.1 95.1l18.7 -15.6M80.4 90.9l2.6 -2.9M78.6 59.0l-2.4 1.3M71.0 69.3l-0.3 2.7M88.6 62.8l-0.0 -2.7M74.0 67.4l2.9 1.8M80.4 90.9l7.6 7.7M86.7 94.5l2.3 3.3M98.1 90.3l0.1 1.4M86.1 60.2l0.2 2.3M76.3 60.3l-1.9 1.8M73.8 71.2l2.1 0.5M72.3 69.9l1.4 1.3M77.5 84.1l0.3 -2.4M83.2 91.7l1.5 -1.7M108.6 83.0l2.1 -1.7M94.1 95.1l4.2 -3.5M98.7 87.3l-2.1 1.7M107.0 80.4l-2.1 1.7M82.0 60.2l-0.7 -1.6M75.3 84.5l2.4 -2.8M79.3 87.0l-2.4 -0.3M77.5 64.1l2.6 -1.6M86.3 62.5l1.5 2.0M88.6 60.1l-1.9 -1.1M74.9 66.3l3.3 0.5M89.0 97.9l-3.0 -1.2M74.3 62.1l-1.7 2.1M72.8 79.8l2.5 -2.8M72.2 75.3l3.0 1.6M86.1 60.2l2.4 -0.1M104.0 84.6l0.5 1.8M94.1 95.1l8.3 -6.9M104.0 84.6l1.0 -2.5M107.7 81.9l-0.6 -1.5M80.1 62.5l2.5 1.4M72.7 64.2l-1.0 2.5M85.2 63.9l2.6 0.7M105.0 82.1l-2.1 1.7M79.3 87.0l1.1 3.8M86.3 62.5l2.2 -2.4M74.9 66.3l-0.6 -4.3M89.0 97.9l0.9 0.7M76.8 62.0l3.3 0.5M72.3 69.9l1.6 -2.5M93.5 93.4l2.7 -0.0M89.9 98.6l4.2 -3.5M102.9 83.8l-2.1 1.7M89.9 98.6l22.9 -19.0M107.7 81.9l-1.1 2.8M72.2 75.3l-1.2 -0.6M72.3 69.9l-0.7 -3.2M104.0 84.6l-3.2 0.9M98.1 90.3l-1.5 -1.3M93.5 93.4l1.0 -2.7M82.3 92.8l3.8 3.9M111.6 78.0l-2.5 0.7M74.0 67.4l1.0 -1.1M72.8 79.8l1.0 2.5M100.3 89.9l-1.6 -2.6M71.7 77.3l3.5 -0.3M83.2 91.7l-0.9 1.1M86.7 94.5l-0.2 -2.5M79.2 60.6l0.9 1.8M73.8 82.3l1.5 2.2M90.3 94.2l-2.0 -0.2M83.7 61.1l1.5 2.7M96.1 93.4l-1.6 -2.7M100.8 85.6l-2.1 1.7M86.7 94.5l-2.6 0.2M112.8 79.5l-1.2 -1.5M107.7 81.9l3.0 -0.6M79.3 87.0l3.7 0.9M93.5 93.4l-3.2 0.7M70.7 72.0l0.3 2.7M79.2 60.6l-2.9 -0.4M74.9 66.3l2.6 -2.2M109.1 78.7l-2.1 1.7M88.4 94.0l-1.8 -2.0M104.4 86.5l-3.7 -0.9M73.8 82.3l2.5 -2.8M90.9 95.6l-2.5 -1.6M76.8 62.0l2.3 -1.3M96.6 89.0l-2.1 1.7M73.8 71.2l1.5 3.1M75.3 84.5l1.5 2.2M76.8 62.0l-2.5 0.1M80.1 62.5l1.9 -2.3M79.3 87.0l0.2 -3.2M71.0 74.7l0.7 2.6M86.0 96.6l1.9 1.9M82.0 60.2l2.0 -1.7M86.5 92.0l-1.8 -2.0M74.9 66.3l1.9 2.8M78.4 88.9l1.9 1.9M71.7 77.3l1.0 2.5M77.5 64.1l0.7 2.7M74.0 67.4l-1.3 -3.2M73.8 71.2l3.1 -2.0M94.5 90.7l-2.1 1.7M76.3 79.5l-1.0 -2.5M83.7 61.1l0.3 -2.6M77.5 85.4l-0.6 1.3M107.7 81.9l1.5 -3.2" stroke="#4d3563" stroke-opacity="0.6" stroke-width="0.38" fill="none"/>
<path d="M88.7 59.0h0.9v0.9h-0.9zM90.1 57.8h0.9v0.9h-0.9zM91.2 56.5h0.9v0.9h-0.9zM92.5 55.5h0.9v0.9h-0.9zM93.8 54.3h0.9v0.9h-0.9zM95.1 53.2h0.9v0.9h-0.9zM96.4 52.0h0.9v0.9h-0.9zM97.7 50.9h0.9v0.9h-0.9zM99.1 49.5h0.9v0.9h-0.9zM100.5 48.5h0.9v0.9h-0.9zM101.8 47.4h0.9v0.9h-0.9zM103.0 46.3h0.9v0.9h-0.9zM104.2 44.8h0.9v0.9h-0.9zM105.6 43.9h0.9v0.9h-0.9zM106.8 42.8h0.9v0.9h-0.9zM89.1 60.8h0.9v0.9h-0.9zM90.2 59.7h0.9v0.9h-0.9zM91.5 58.3h0.9v0.9h-0.9zM93.0 57.2h0.9v0.9h-0.9zM94.2 56.1h0.9v0.9h-0.9zM95.5 54.8h0.9v0.9h-0.9zM96.8 53.8h0.9v0.9h-0.9zM98.1 52.5h0.9v0.9h-0.9zM99.5 51.4h0.9v0.9h-0.9zM100.7 50.2h0.9v0.9h-0.9zM102.1 49.0h0.9v0.9h-0.9zM103.2 47.8h0.9v0.9h-0.9zM104.5 46.8h0.9v0.9h-0.9zM105.9 45.6h0.9v0.9h-0.9zM107.1 44.5h0.9v0.9h-0.9zM108.5 43.2h0.9v0.9h-0.9zM109.9 42.0h0.9v0.9h-0.9zM111.2 40.8h0.9v0.9h-0.9zM112.4 39.6h0.9v0.9h-0.9zM113.7 38.3h0.9v0.9h-0.9zM115.1 37.3h0.9v0.9h-0.9zM116.3 36.2h0.9v0.9h-0.9zM117.5 35.0h0.9v0.9h-0.9zM118.8 33.8h0.9v0.9h-0.9zM120.2 32.8h0.9v0.9h-0.9zM121.7 31.5h0.9v0.9h-0.9zM122.9 30.4h0.9v0.9h-0.9zM124.1 29.2h0.9v0.9h-0.9zM125.5 28.0h0.9v0.9h-0.9zM126.7 26.7h0.9v0.9h-0.9zM128.0 25.5h0.9v0.9h-0.9zM129.3 24.5h0.9v0.9h-0.9zM130.7 23.3h0.9v0.9h-0.9zM132.0 22.1h0.9v0.9h-0.9zM133.3 20.9h0.9v0.9h-0.9zM134.6 19.8h0.9v0.9h-0.9zM135.9 18.6h0.9v0.9h-0.9zM137.1 17.4h0.9v0.9h-0.9zM138.3 16.2h0.9v0.9h-0.9zM139.6 15.0h0.9v0.9h-0.9zM140.9 13.8h0.9v0.9h-0.9zM142.2 12.8h0.9v0.9h-0.9zM143.5 11.6h0.9v0.9h-0.9zM145.0 10.4h0.9v0.9h-0.9zM146.2 9.3h0.9v0.9h-0.9zM147.4 8.0h0.9v0.9h-0.9zM148.9 6.9h0.9v0.9h-0.9zM150.1 5.6h0.9v0.9h-0.9zM151.4 4.5h0.9v0.9h-0.9zM152.7 3.4h0.9v0.9h-0.9zM154.1 2.3h0.9v0.9h-0.9zM155.3 0.9h0.9v0.9h-0.9zM156.5 -0.0h0.9v0.9h-0.9zM158.0 -1.2h0.9v0.9h-0.9zM89.4 62.5h0.9v0.9h-0.9zM90.7 61.1h0.9v0.9h-0.9zM92.0 60.1h0.9v0.9h-0.9zM93.4 58.9h0.9v0.9h-0.9zM94.5 57.8h0.9v0.9h-0.9zM96.0 56.6h0.9v0.9h-0.9zM97.1 55.4h0.9v0.9h-0.9zM98.4 54.2h0.9v0.9h-0.9zM99.7 53.0h0.9v0.9h-0.9zM101.0 51.9h0.9v0.9h-0.9zM102.3 50.7h0.9v0.9h-0.9zM103.6 49.6h0.9v0.9h-0.9zM104.9 48.5h0.9v0.9h-0.9zM106.2 47.3h0.9v0.9h-0.9zM107.6 45.9h0.9v0.9h-0.9zM108.9 45.0h0.9v0.9h-0.9zM110.0 43.7h0.9v0.9h-0.9zM111.5 42.4h0.9v0.9h-0.9zM112.8 41.5h0.9v0.9h-0.9zM114.1 40.2h0.9v0.9h-0.9zM115.4 39.0h0.9v0.9h-0.9zM116.7 38.0h0.9v0.9h-0.9zM117.9 36.7h0.9v0.9h-0.9zM119.3 35.6h0.9v0.9h-0.9zM120.6 34.3h0.9v0.9h-0.9zM121.9 33.1h0.9v0.9h-0.9zM123.2 32.1h0.9v0.9h-0.9zM124.3 30.9h0.9v0.9h-0.9zM125.8 29.7h0.9v0.9h-0.9zM127.0 28.6h0.9v0.9h-0.9zM128.3 27.4h0.9v0.9h-0.9zM129.6 26.0h0.9v0.9h-0.9zM130.9 25.1h0.9v0.9h-0.9zM132.2 23.8h0.9v0.9h-0.9zM133.5 22.8h0.9v0.9h-0.9zM134.8 21.5h0.9v0.9h-0.9zM136.2 20.2h0.9v0.9h-0.9zM137.4 19.2h0.9v0.9h-0.9zM138.7 18.1h0.9v0.9h-0.9zM140.1 16.8h0.9v0.9h-0.9zM141.2 15.6h0.9v0.9h-0.9zM142.6 14.4h0.9v0.9h-0.9zM143.8 13.3h0.9v0.9h-0.9zM145.2 12.2h0.9v0.9h-0.9zM146.6 10.8h0.9v0.9h-0.9zM148.0 9.8h0.9v0.9h-0.9zM149.3 8.7h0.9v0.9h-0.9zM150.5 7.3h0.9v0.9h-0.9zM151.8 6.3h0.9v0.9h-0.9zM153.2 5.0h0.9v0.9h-0.9zM154.4 3.8h0.9v0.9h-0.9zM155.6 2.6h0.9v0.9h-0.9zM156.8 1.6h0.9v0.9h-0.9zM158.3 0.3h0.9v0.9h-0.9zM159.5 -0.8h0.9v0.9h-0.9zM114.5 41.8h0.9v0.9h-0.9zM115.7 40.9h0.9v0.9h-0.9zM117.0 39.6h0.9v0.9h-0.9zM118.5 38.5h0.9v0.9h-0.9zM119.6 37.3h0.9v0.9h-0.9zM120.9 36.2h0.9v0.9h-0.9zM122.2 34.8h0.9v0.9h-0.9zM123.6 33.8h0.9v0.9h-0.9zM124.8 32.4h0.9v0.9h-0.9zM126.0 31.4h0.9v0.9h-0.9zM127.6 30.2h0.9v0.9h-0.9zM128.7 29.1h0.9v0.9h-0.9zM130.0 27.7h0.9v0.9h-0.9zM131.4 26.5h0.9v0.9h-0.9zM132.6 25.4h0.9v0.9h-0.9zM134.0 24.5h0.9v0.9h-0.9zM135.3 23.3h0.9v0.9h-0.9zM136.6 22.0h0.9v0.9h-0.9zM137.7 20.9h0.9v0.9h-0.9zM139.0 19.7h0.9v0.9h-0.9zM140.5 18.4h0.9v0.9h-0.9zM141.8 17.3h0.9v0.9h-0.9zM143.2 16.2h0.9v0.9h-0.9zM144.3 14.9h0.9v0.9h-0.9zM145.5 13.9h0.9v0.9h-0.9zM146.9 12.6h0.9v0.9h-0.9zM148.4 11.5h0.9v0.9h-0.9zM149.6 10.2h0.9v0.9h-0.9zM151.0 9.1h0.9v0.9h-0.9zM152.1 8.2h0.9v0.9h-0.9zM153.5 6.7h0.9v0.9h-0.9zM154.6 5.6h0.9v0.9h-0.9zM156.0 4.4h0.9v0.9h-0.9zM157.4 3.2h0.9v0.9h-0.9zM158.7 2.2h0.9v0.9h-0.9zM160.0 1.0h0.9v0.9h-0.9zM161.3 -0.2h0.9v0.9h-0.9zM112.0 76.7h0.9v0.9h-0.9zM113.2 75.6h0.9v0.9h-0.9zM114.4 74.4h0.9v0.9h-0.9zM115.8 73.3h0.9v0.9h-0.9zM117.1 72.0h0.9v0.9h-0.9zM118.4 70.9h0.9v0.9h-0.9zM119.9 69.7h0.9v0.9h-0.9zM121.1 68.6h0.9v0.9h-0.9zM122.4 67.4h0.9v0.9h-0.9zM123.7 66.2h0.9v0.9h-0.9zM126.3 64.0h0.9v0.9h-0.9zM127.6 62.9h0.9v0.9h-0.9zM129.0 61.5h0.9v0.9h-0.9zM131.5 59.3h0.9v0.9h-0.9zM113.7 77.2h0.9v0.9h-0.9zM115.0 76.2h0.9v0.9h-0.9zM116.3 75.0h0.9v0.9h-0.9zM117.6 73.8h0.9v0.9h-0.9zM118.8 72.5h0.9v0.9h-0.9zM120.1 71.6h0.9v0.9h-0.9zM121.5 70.2h0.9v0.9h-0.9zM122.7 69.3h0.9v0.9h-0.9zM124.1 68.1h0.9v0.9h-0.9zM125.3 66.9h0.9v0.9h-0.9zM126.5 65.6h0.9v0.9h-0.9zM127.8 64.4h0.9v0.9h-0.9zM129.4 63.3h0.9v0.9h-0.9zM130.7 62.1h0.9v0.9h-0.9zM131.9 60.8h0.9v0.9h-0.9zM133.0 59.8h0.9v0.9h-0.9zM134.5 58.7h0.9v0.9h-0.9zM135.7 57.4h0.9v0.9h-0.9zM136.9 56.3h0.9v0.9h-0.9zM138.3 55.1h0.9v0.9h-0.9zM139.6 53.8h0.9v0.9h-0.9zM141.0 52.6h0.9v0.9h-0.9zM142.3 51.6h0.9v0.9h-0.9zM143.5 50.4h0.9v0.9h-0.9zM144.9 49.3h0.9v0.9h-0.9zM146.2 48.1h0.9v0.9h-0.9zM147.5 46.9h0.9v0.9h-0.9zM148.7 45.7h0.9v0.9h-0.9zM150.0 44.4h0.9v0.9h-0.9zM151.5 43.4h0.9v0.9h-0.9zM152.6 42.2h0.9v0.9h-0.9zM154.0 41.1h0.9v0.9h-0.9zM155.2 39.9h0.9v0.9h-0.9zM156.5 38.6h0.9v0.9h-0.9zM157.8 37.6h0.9v0.9h-0.9zM137.4 57.9h0.9v0.9h-0.9zM138.8 56.8h0.9v0.9h-0.9zM140.1 55.6h0.9v0.9h-0.9zM141.3 54.3h0.9v0.9h-0.9zM142.6 53.3h0.9v0.9h-0.9zM144.0 52.0h0.9v0.9h-0.9zM145.1 50.9h0.9v0.9h-0.9zM146.6 49.8h0.9v0.9h-0.9zM147.8 48.5h0.9v0.9h-0.9zM149.2 47.4h0.9v0.9h-0.9zM150.4 46.1h0.9v0.9h-0.9zM151.5 45.1h0.9v0.9h-0.9zM152.9 43.9h0.9v0.9h-0.9zM154.3 42.8h0.9v0.9h-0.9zM155.7 41.6h0.9v0.9h-0.9zM156.8 40.3h0.9v0.9h-0.9zM158.2 39.4h0.9v0.9h-0.9zM159.4 38.0h0.9v0.9h-0.9zM161.0 36.9h0.9v0.9h-0.9zM162.0 35.7h0.9v0.9h-0.9zM163.6 34.6h0.9v0.9h-0.9zM164.6 33.3h0.9v0.9h-0.9zM165.9 32.1h0.9v0.9h-0.9zM167.2 31.1h0.9v0.9h-0.9zM168.5 29.8h0.9v0.9h-0.9zM170.0 28.6h0.9v0.9h-0.9zM171.2 27.7h0.9v0.9h-0.9zM172.4 26.3h0.9v0.9h-0.9zM173.7 25.2h0.9v0.9h-0.9zM175.0 24.0h0.9v0.9h-0.9zM176.5 22.9h0.9v0.9h-0.9zM177.6 21.7h0.9v0.9h-0.9zM179.0 20.5h0.9v0.9h-0.9zM180.4 19.4h0.9v0.9h-0.9zM181.7 18.1h0.9v0.9h-0.9zM183.0 17.1h0.9v0.9h-0.9zM184.2 15.9h0.9v0.9h-0.9zM185.5 14.5h0.9v0.9h-0.9zM186.9 13.5h0.9v0.9h-0.9zM188.2 12.2h0.9v0.9h-0.9zM189.4 11.3h0.9v0.9h-0.9zM190.8 10.0h0.9v0.9h-0.9zM192.0 8.8h0.9v0.9h-0.9zM193.3 7.5h0.9v0.9h-0.9zM194.6 6.3h0.9v0.9h-0.9zM195.9 5.3h0.9v0.9h-0.9zM197.2 4.0h0.9v0.9h-0.9zM198.7 2.9h0.9v0.9h-0.9zM199.8 1.8h0.9v0.9h-0.9zM201.2 0.7h0.9v0.9h-0.9zM202.5 -0.5h0.9v0.9h-0.9zM158.5 40.8h0.9v0.9h-0.9zM160.0 39.8h0.9v0.9h-0.9zM161.1 38.6h0.9v0.9h-0.9zM162.4 37.4h0.9v0.9h-0.9zM163.6 36.3h0.9v0.9h-0.9zM165.1 34.9h0.9v0.9h-0.9zM166.4 33.9h0.9v0.9h-0.9zM167.7 32.9h0.9v0.9h-0.9zM169.0 31.7h0.9v0.9h-0.9zM170.4 30.4h0.9v0.9h-0.9zM171.7 29.2h0.9v0.9h-0.9zM172.8 28.0h0.9v0.9h-0.9zM174.2 26.9h0.9v0.9h-0.9zM175.6 25.7h0.9v0.9h-0.9zM176.8 24.4h0.9v0.9h-0.9zM178.0 23.3h0.9v0.9h-0.9zM179.4 22.3h0.9v0.9h-0.9zM180.6 20.9h0.9v0.9h-0.9zM182.0 19.8h0.9v0.9h-0.9zM183.4 18.7h0.9v0.9h-0.9zM184.6 17.4h0.9v0.9h-0.9zM186.0 16.4h0.9v0.9h-0.9zM187.3 15.3h0.9v0.9h-0.9zM188.6 14.0h0.9v0.9h-0.9zM189.7 12.8h0.9v0.9h-0.9zM191.0 11.7h0.9v0.9h-0.9zM192.4 10.6h0.9v0.9h-0.9zM193.8 9.4h0.9v0.9h-0.9zM194.9 8.2h0.9v0.9h-0.9zM196.3 7.1h0.9v0.9h-0.9zM197.5 5.8h0.9v0.9h-0.9zM198.9 4.6h0.9v0.9h-0.9zM200.2 3.3h0.9v0.9h-0.9zM201.6 2.2h0.9v0.9h-0.9zM202.6 1.1h0.9v0.9h-0.9zM204.1 0.1h0.9v0.9h-0.9zM182.4 21.6h0.9v0.9h-0.9zM185.0 19.1h0.9v0.9h-0.9zM186.4 18.0h0.9v0.9h-0.9zM187.5 16.8h0.9v0.9h-0.9zM188.9 15.8h0.9v0.9h-0.9zM190.1 14.6h0.9v0.9h-0.9zM191.4 13.3h0.9v0.9h-0.9zM192.7 12.2h0.9v0.9h-0.9zM193.9 11.0h0.9v0.9h-0.9zM195.4 9.8h0.9v0.9h-0.9zM196.8 8.7h0.9v0.9h-0.9zM198.1 7.5h0.9v0.9h-0.9zM199.4 6.4h0.9v0.9h-0.9zM200.6 5.1h0.9v0.9h-0.9zM201.9 4.1h0.9v0.9h-0.9zM203.3 2.9h0.9v0.9h-0.9zM204.6 1.7h0.9v0.9h-0.9zM205.7 0.4h0.9v0.9h-0.9zM207.2 -0.8h0.9v0.9h-0.9z" fill="#33204a" fill-opacity="0.5"/>
<path d="M170.1 -6.0L163.5 0.0L132.9 28.0L105.9 50.0L88.6 64.7L85.0 63.8L81.6 64.0L78.5 66.3L76.5 69.8L75.3 73.5L75.1 76.5L76.0 79.0L77.6 81.6L81.4 86.2L85.8 91.2L89.3 95.0L119.7 70.0L143.0 50.0L170.2 28.0L201.7 0.0L208.4 -6.0Z" fill="#7db867" stroke="#2f5a24" stroke-width="0.3" stroke-linejoin="round"/>
<path d="M143.0 50.0L170.2 28.0L201.7 0.0L202.8 -1.0L200.1 -1.0L199.0 0.0L167.6 28.0L141.1 50.0L123.5 64.8L124.0 66.0L123.6 66.7ZM135.6 28.0L166.1 0.0L167.2 -1.0L164.6 -1.0L163.5 0.0L132.9 28.0L113.7 43.7L114.8 46.0Z" fill="#5e9a49"/>
<path d="M76.4 69.7h1.0v1.0h-1.0zM77.6 68.6h1.0v1.0h-1.0zM79.1 67.4h1.0v1.0h-1.0zM80.4 66.3h1.0v1.0h-1.0zM81.8 65.0h1.0v1.0h-1.0zM83.2 63.7h1.0v1.0h-1.0zM75.3 72.9h1.0v1.0h-1.0zM76.7 71.6h1.0v1.0h-1.0zM78.2 70.4h1.0v1.0h-1.0zM79.3 69.1h1.0v1.0h-1.0zM80.9 67.8h1.0v1.0h-1.0zM82.3 66.8h1.0v1.0h-1.0zM83.7 65.5h1.0v1.0h-1.0zM85.0 64.3h1.0v1.0h-1.0zM75.7 74.8h1.0v1.0h-1.0zM77.0 73.6h1.0v1.0h-1.0zM78.5 72.3h1.0v1.0h-1.0zM79.9 71.1h1.0v1.0h-1.0zM81.2 69.9h1.0v1.0h-1.0zM82.7 68.5h1.0v1.0h-1.0zM84.0 67.5h1.0v1.0h-1.0zM85.3 66.0h1.0v1.0h-1.0zM86.7 64.8h1.0v1.0h-1.0zM76.3 76.6h1.0v1.0h-1.0zM77.6 75.2h1.0v1.0h-1.0zM78.8 74.1h1.0v1.0h-1.0zM80.3 73.0h1.0v1.0h-1.0zM81.5 71.6h1.0v1.0h-1.0zM83.0 70.3h1.0v1.0h-1.0zM84.4 69.3h1.0v1.0h-1.0zM85.7 67.9h1.0v1.0h-1.0zM87.1 66.8h1.0v1.0h-1.0zM88.4 65.5h1.0v1.0h-1.0zM90.0 64.2h1.0v1.0h-1.0zM91.4 62.9h1.0v1.0h-1.0zM92.5 61.6h1.0v1.0h-1.0zM93.9 60.4h1.0v1.0h-1.0zM95.4 59.0h1.0v1.0h-1.0zM96.6 57.9h1.0v1.0h-1.0zM98.0 56.8h1.0v1.0h-1.0zM99.5 55.7h1.0v1.0h-1.0zM100.9 54.2h1.0v1.0h-1.0zM102.4 53.0h1.0v1.0h-1.0zM103.6 51.9h1.0v1.0h-1.0zM105.1 50.5h1.0v1.0h-1.0zM106.4 49.4h1.0v1.0h-1.0zM107.8 47.9h1.0v1.0h-1.0zM109.1 47.0h1.0v1.0h-1.0zM76.6 78.2h1.0v1.0h-1.0zM77.9 77.0h1.0v1.0h-1.0zM79.4 75.9h1.0v1.0h-1.0zM80.8 74.7h1.0v1.0h-1.0zM82.1 73.5h1.0v1.0h-1.0zM83.3 72.2h1.0v1.0h-1.0zM84.6 70.9h1.0v1.0h-1.0zM86.2 69.7h1.0v1.0h-1.0zM87.5 68.3h1.0v1.0h-1.0zM88.9 67.1h1.0v1.0h-1.0zM90.3 66.1h1.0v1.0h-1.0zM91.8 64.7h1.0v1.0h-1.0zM93.0 63.5h1.0v1.0h-1.0zM94.4 62.2h1.0v1.0h-1.0zM95.9 61.0h1.0v1.0h-1.0zM97.2 59.9h1.0v1.0h-1.0zM98.5 58.6h1.0v1.0h-1.0zM99.9 57.2h1.0v1.0h-1.0zM101.3 56.1h1.0v1.0h-1.0zM102.6 54.7h1.0v1.0h-1.0zM104.2 53.6h1.0v1.0h-1.0zM105.4 52.5h1.0v1.0h-1.0zM106.7 51.0h1.0v1.0h-1.0zM108.2 49.8h1.0v1.0h-1.0zM109.6 48.7h1.0v1.0h-1.0zM110.8 47.3h1.0v1.0h-1.0zM112.4 46.1h1.0v1.0h-1.0zM77.0 80.1h1.0v1.0h-1.0zM78.3 78.9h1.0v1.0h-1.0zM79.7 77.7h1.0v1.0h-1.0zM81.2 76.4h1.0v1.0h-1.0zM82.5 75.3h1.0v1.0h-1.0zM83.7 74.1h1.0v1.0h-1.0zM85.2 72.8h1.0v1.0h-1.0zM86.5 71.5h1.0v1.0h-1.0zM87.9 70.1h1.0v1.0h-1.0zM89.2 69.1h1.0v1.0h-1.0zM90.7 67.7h1.0v1.0h-1.0zM92.0 66.4h1.0v1.0h-1.0zM93.4 65.4h1.0v1.0h-1.0zM94.9 64.1h1.0v1.0h-1.0zM96.2 62.7h1.0v1.0h-1.0zM97.6 61.6h1.0v1.0h-1.0zM98.9 60.4h1.0v1.0h-1.0zM100.3 59.0h1.0v1.0h-1.0zM101.7 57.7h1.0v1.0h-1.0zM103.0 56.8h1.0v1.0h-1.0zM104.4 55.5h1.0v1.0h-1.0zM105.7 54.1h1.0v1.0h-1.0zM107.2 52.9h1.0v1.0h-1.0zM108.4 51.7h1.0v1.0h-1.0zM78.5 80.7h1.0v1.0h-1.0zM80.0 79.5h1.0v1.0h-1.0zM81.5 78.2h1.0v1.0h-1.0zM104.6 57.2h1.0v1.0h-1.0zM107.5 54.9h1.0v1.0h-1.0zM79.1 82.6h1.0v1.0h-1.0zM80.4 81.2h1.0v1.0h-1.0zM81.9 80.1h1.0v1.0h-1.0zM80.9 83.1h1.0v1.0h-1.0zM82.2 82.0h1.0v1.0h-1.0zM81.3 84.9h1.0v1.0h-1.0zM82.6 83.5h1.0v1.0h-1.0zM84.0 82.5h1.0v1.0h-1.0zM82.8 85.5h1.0v1.0h-1.0zM84.3 84.1h1.0v1.0h-1.0zM83.4 87.3h1.0v1.0h-1.0zM84.7 86.2h1.0v1.0h-1.0zM86.1 84.8h1.0v1.0h-1.0zM85.1 87.8h1.0v1.0h-1.0zM86.5 86.6h1.0v1.0h-1.0zM85.3 89.7h1.0v1.0h-1.0zM86.9 88.5h1.0v1.0h-1.0zM88.2 87.2h1.0v1.0h-1.0zM89.5 85.8h1.0v1.0h-1.0zM91.0 84.9h1.0v1.0h-1.0zM92.4 83.6h1.0v1.0h-1.0zM87.3 90.3h1.0v1.0h-1.0zM88.7 89.1h1.0v1.0h-1.0zM90.1 87.8h1.0v1.0h-1.0zM91.4 86.6h1.0v1.0h-1.0zM92.7 85.1h1.0v1.0h-1.0zM94.1 84.1h1.0v1.0h-1.0zM95.4 83.0h1.0v1.0h-1.0zM97.0 81.6h1.0v1.0h-1.0zM98.2 80.4h1.0v1.0h-1.0zM99.7 79.0h1.0v1.0h-1.0zM101.0 77.8h1.0v1.0h-1.0zM102.3 76.6h1.0v1.0h-1.0zM103.6 75.4h1.0v1.0h-1.0zM105.1 74.3h1.0v1.0h-1.0zM106.5 72.7h1.0v1.0h-1.0zM107.7 71.7h1.0v1.0h-1.0zM87.6 92.0h1.0v1.0h-1.0zM88.9 90.8h1.0v1.0h-1.0zM90.3 89.6h1.0v1.0h-1.0zM91.7 88.4h1.0v1.0h-1.0zM93.1 87.2h1.0v1.0h-1.0zM94.6 85.9h1.0v1.0h-1.0zM95.9 84.8h1.0v1.0h-1.0zM97.2 83.5h1.0v1.0h-1.0zM98.7 82.1h1.0v1.0h-1.0zM100.0 81.0h1.0v1.0h-1.0zM101.3 79.8h1.0v1.0h-1.0zM102.6 78.5h1.0v1.0h-1.0zM104.2 77.3h1.0v1.0h-1.0zM105.5 75.8h1.0v1.0h-1.0zM106.8 74.8h1.0v1.0h-1.0zM108.2 73.5h1.0v1.0h-1.0zM89.3 92.7h1.0v1.0h-1.0zM90.8 91.5h1.0v1.0h-1.0zM92.1 90.1h1.0v1.0h-1.0zM93.5 89.0h1.0v1.0h-1.0zM94.8 87.8h1.0v1.0h-1.0zM96.3 86.4h1.0v1.0h-1.0zM97.6 85.1h1.0v1.0h-1.0zM98.9 84.0h1.0v1.0h-1.0zM100.2 82.7h1.0v1.0h-1.0zM101.8 81.6h1.0v1.0h-1.0zM103.1 80.3h1.0v1.0h-1.0zM104.7 79.0h1.0v1.0h-1.0zM106.0 77.7h1.0v1.0h-1.0zM107.3 76.5h1.0v1.0h-1.0zM108.6 75.3h1.0v1.0h-1.0zM104.9 80.8h1.0v1.0h-1.0zM106.2 79.7h1.0v1.0h-1.0zM107.5 78.4h1.0v1.0h-1.0zM109.1 77.2h1.0v1.0h-1.0zM110.5 75.9h1.0v1.0h-1.0zM111.6 74.7h1.0v1.0h-1.0zM113.1 73.2h1.0v1.0h-1.0zM114.6 72.1h1.0v1.0h-1.0zM115.9 70.9h1.0v1.0h-1.0zM117.2 69.7h1.0v1.0h-1.0zM118.6 68.5h1.0v1.0h-1.0z" fill="#16300f" fill-opacity="0.72"/>
<path d="M172.6 -6.0L166.1 0.0L135.6 28.0L110.2 50.0L109.4 49.7L109.2 54.7L116.0 50.0L143.0 28.0L173.5 0.0L180.0 -6.0Z" fill="#c2af6e" stroke="#7a6c30" stroke-width="0.2" stroke-linejoin="round"/>
<path d="M196.5 -6.0L189.8 0.0L158.8 28.0L132.8 50.0L109.2 70.8L110.5 74.3L111.2 75.0L117.3 70.0L141.1 50.0L167.6 28.0L199.0 0.0L205.7 -6.0Z" fill="#c2af6e" stroke="#7a6c30" stroke-width="0.2" stroke-linejoin="round"/>
<path d="M109.4 51.6h0.8v0.8h-0.8zM110.6 50.4h0.8v0.8h-0.8zM111.8 49.4h0.8v0.8h-0.8zM112.9 48.2h0.8v0.8h-0.8zM114.3 47.1h0.8v0.8h-0.8zM115.6 45.9h0.8v0.8h-0.8zM116.8 44.6h0.8v0.8h-0.8zM118.0 43.7h0.8v0.8h-0.8zM119.4 42.5h0.8v0.8h-0.8zM120.6 41.5h0.8v0.8h-0.8zM121.9 40.3h0.8v0.8h-0.8zM123.1 38.9h0.8v0.8h-0.8zM124.3 37.9h0.8v0.8h-0.8zM125.8 36.8h0.8v0.8h-0.8zM126.9 35.7h0.8v0.8h-0.8zM128.0 34.5h0.8v0.8h-0.8zM129.3 33.3h0.8v0.8h-0.8zM130.7 32.3h0.8v0.8h-0.8zM131.9 31.0h0.8v0.8h-0.8zM133.3 29.9h0.8v0.8h-0.8zM134.3 28.8h0.8v0.8h-0.8zM135.7 27.6h0.8v0.8h-0.8zM137.0 26.4h0.8v0.8h-0.8zM138.2 25.4h0.8v0.8h-0.8zM139.5 24.2h0.8v0.8h-0.8zM140.7 23.1h0.8v0.8h-0.8zM142.1 22.1h0.8v0.8h-0.8zM143.2 21.0h0.8v0.8h-0.8zM144.6 19.8h0.8v0.8h-0.8zM145.7 18.6h0.8v0.8h-0.8zM147.3 17.4h0.8v0.8h-0.8zM148.3 16.4h0.8v0.8h-0.8zM149.5 15.2h0.8v0.8h-0.8zM151.0 14.0h0.8v0.8h-0.8zM152.1 13.0h0.8v0.8h-0.8zM153.5 11.7h0.8v0.8h-0.8zM154.7 10.6h0.8v0.8h-0.8zM155.9 9.4h0.8v0.8h-0.8zM157.2 8.3h0.8v0.8h-0.8zM158.6 7.2h0.8v0.8h-0.8zM159.6 6.0h0.8v0.8h-0.8zM160.9 5.0h0.8v0.8h-0.8zM162.3 3.7h0.8v0.8h-0.8zM163.4 2.6h0.8v0.8h-0.8zM164.8 1.5h0.8v0.8h-0.8zM166.1 0.3h0.8v0.8h-0.8zM167.3 -0.9h0.8v0.8h-0.8zM109.7 53.3h0.8v0.8h-0.8zM110.7 52.0h0.8v0.8h-0.8zM112.1 51.1h0.8v0.8h-0.8zM113.3 49.7h0.8v0.8h-0.8zM114.7 48.8h0.8v0.8h-0.8zM115.8 47.4h0.8v0.8h-0.8zM117.1 46.5h0.8v0.8h-0.8zM118.3 45.3h0.8v0.8h-0.8zM119.6 44.0h0.8v0.8h-0.8zM120.9 43.1h0.8v0.8h-0.8zM122.3 41.8h0.8v0.8h-0.8zM123.4 40.7h0.8v0.8h-0.8zM124.7 39.7h0.8v0.8h-0.8zM126.0 38.5h0.8v0.8h-0.8zM127.4 37.2h0.8v0.8h-0.8zM128.5 36.2h0.8v0.8h-0.8zM129.8 35.1h0.8v0.8h-0.8zM131.0 33.8h0.8v0.8h-0.8zM132.4 32.7h0.8v0.8h-0.8zM133.4 31.7h0.8v0.8h-0.8zM135.0 30.4h0.8v0.8h-0.8zM136.1 29.3h0.8v0.8h-0.8zM137.4 28.2h0.8v0.8h-0.8zM138.7 27.0h0.8v0.8h-0.8zM139.8 25.9h0.8v0.8h-0.8zM141.2 24.9h0.8v0.8h-0.8zM142.3 23.5h0.8v0.8h-0.8zM143.6 22.5h0.8v0.8h-0.8zM144.9 21.3h0.8v0.8h-0.8zM146.3 20.3h0.8v0.8h-0.8zM147.5 19.2h0.8v0.8h-0.8zM148.8 17.8h0.8v0.8h-0.8zM149.9 16.8h0.8v0.8h-0.8zM151.2 15.7h0.8v0.8h-0.8zM152.7 14.5h0.8v0.8h-0.8zM153.9 13.4h0.8v0.8h-0.8zM155.1 12.2h0.8v0.8h-0.8zM156.2 11.3h0.8v0.8h-0.8zM157.6 9.9h0.8v0.8h-0.8zM158.8 9.0h0.8v0.8h-0.8zM160.1 7.9h0.8v0.8h-0.8zM161.3 6.5h0.8v0.8h-0.8zM162.7 5.5h0.8v0.8h-0.8zM163.9 4.3h0.8v0.8h-0.8zM165.0 3.2h0.8v0.8h-0.8zM166.5 2.1h0.8v0.8h-0.8zM167.5 0.9h0.8v0.8h-0.8zM168.9 -0.2h0.8v0.8h-0.8zM120.0 45.7h0.8v0.8h-0.8zM121.3 44.6h0.8v0.8h-0.8zM122.5 43.5h0.8v0.8h-0.8zM123.9 42.3h0.8v0.8h-0.8zM125.0 41.2h0.8v0.8h-0.8zM126.4 40.0h0.8v0.8h-0.8zM127.6 39.0h0.8v0.8h-0.8zM128.8 37.8h0.8v0.8h-0.8zM130.1 36.6h0.8v0.8h-0.8zM131.4 35.4h0.8v0.8h-0.8zM132.7 34.5h0.8v0.8h-0.8zM134.0 33.4h0.8v0.8h-0.8zM135.1 32.1h0.8v0.8h-0.8zM136.3 30.9h0.8v0.8h-0.8zM137.7 29.8h0.8v0.8h-0.8zM139.1 28.8h0.8v0.8h-0.8zM140.2 27.6h0.8v0.8h-0.8zM141.4 26.6h0.8v0.8h-0.8zM142.7 25.3h0.8v0.8h-0.8zM143.9 24.2h0.8v0.8h-0.8zM145.3 23.1h0.8v0.8h-0.8zM146.6 21.9h0.8v0.8h-0.8zM147.8 20.7h0.8v0.8h-0.8zM149.0 19.6h0.8v0.8h-0.8zM150.4 18.4h0.8v0.8h-0.8zM151.6 17.3h0.8v0.8h-0.8zM152.8 16.2h0.8v0.8h-0.8zM154.2 15.0h0.8v0.8h-0.8zM155.4 13.8h0.8v0.8h-0.8zM156.6 12.6h0.8v0.8h-0.8zM158.0 11.7h0.8v0.8h-0.8zM159.2 10.4h0.8v0.8h-0.8zM160.5 9.2h0.8v0.8h-0.8zM161.5 8.3h0.8v0.8h-0.8zM163.0 7.1h0.8v0.8h-0.8zM164.2 5.9h0.8v0.8h-0.8zM165.6 4.9h0.8v0.8h-0.8zM166.8 3.8h0.8v0.8h-0.8zM168.0 2.5h0.8v0.8h-0.8zM169.2 1.3h0.8v0.8h-0.8zM170.6 0.3h0.8v0.8h-0.8zM171.6 -0.9h0.8v0.8h-0.8zM110.3 70.3h0.8v0.8h-0.8zM111.5 69.2h0.8v0.8h-0.8zM112.7 68.0h0.8v0.8h-0.8zM114.2 66.9h0.8v0.8h-0.8zM115.3 65.7h0.8v0.8h-0.8zM116.4 64.6h0.8v0.8h-0.8zM117.8 63.6h0.8v0.8h-0.8zM119.2 62.3h0.8v0.8h-0.8zM120.4 61.1h0.8v0.8h-0.8zM121.5 60.1h0.8v0.8h-0.8zM123.0 58.9h0.8v0.8h-0.8zM124.2 57.9h0.8v0.8h-0.8zM125.4 56.8h0.8v0.8h-0.8zM126.6 55.5h0.8v0.8h-0.8zM127.8 54.4h0.8v0.8h-0.8zM129.1 53.2h0.8v0.8h-0.8zM130.4 52.0h0.8v0.8h-0.8zM131.7 51.0h0.8v0.8h-0.8zM133.0 49.7h0.8v0.8h-0.8zM134.3 48.5h0.8v0.8h-0.8zM135.6 47.4h0.8v0.8h-0.8zM136.7 46.5h0.8v0.8h-0.8zM138.0 45.4h0.8v0.8h-0.8zM139.3 44.2h0.8v0.8h-0.8zM140.6 42.9h0.8v0.8h-0.8zM141.9 42.0h0.8v0.8h-0.8zM110.6 72.0h0.8v0.8h-0.8zM111.9 70.6h0.8v0.8h-0.8zM113.2 69.8h0.8v0.8h-0.8zM114.3 68.5h0.8v0.8h-0.8zM115.7 67.4h0.8v0.8h-0.8zM116.8 66.3h0.8v0.8h-0.8zM118.3 65.1h0.8v0.8h-0.8zM119.4 63.9h0.8v0.8h-0.8zM120.8 62.8h0.8v0.8h-0.8zM122.0 61.7h0.8v0.8h-0.8zM123.2 60.7h0.8v0.8h-0.8zM124.3 59.4h0.8v0.8h-0.8zM125.8 58.4h0.8v0.8h-0.8zM126.9 57.2h0.8v0.8h-0.8zM128.2 56.0h0.8v0.8h-0.8zM129.4 54.9h0.8v0.8h-0.8zM130.8 53.8h0.8v0.8h-0.8zM132.2 52.7h0.8v0.8h-0.8zM133.4 51.5h0.8v0.8h-0.8zM134.7 50.3h0.8v0.8h-0.8zM135.9 49.2h0.8v0.8h-0.8zM137.0 48.1h0.8v0.8h-0.8zM138.4 47.0h0.8v0.8h-0.8zM139.7 45.8h0.8v0.8h-0.8zM140.9 44.6h0.8v0.8h-0.8zM142.2 43.6h0.8v0.8h-0.8zM143.3 42.4h0.8v0.8h-0.8zM144.7 41.1h0.8v0.8h-0.8zM146.0 40.1h0.8v0.8h-0.8zM147.1 39.0h0.8v0.8h-0.8zM148.6 37.8h0.8v0.8h-0.8zM149.8 36.8h0.8v0.8h-0.8zM151.1 35.5h0.8v0.8h-0.8zM152.2 34.5h0.8v0.8h-0.8zM153.6 33.3h0.8v0.8h-0.8zM154.8 32.2h0.8v0.8h-0.8zM156.1 31.1h0.8v0.8h-0.8zM157.2 29.8h0.8v0.8h-0.8zM158.7 28.8h0.8v0.8h-0.8zM159.8 27.6h0.8v0.8h-0.8zM161.1 26.6h0.8v0.8h-0.8zM162.5 25.3h0.8v0.8h-0.8zM163.7 24.0h0.8v0.8h-0.8zM165.1 23.0h0.8v0.8h-0.8zM166.1 22.0h0.8v0.8h-0.8zM167.5 20.9h0.8v0.8h-0.8zM168.8 19.5h0.8v0.8h-0.8zM170.1 18.5h0.8v0.8h-0.8zM171.3 17.4h0.8v0.8h-0.8zM172.5 16.2h0.8v0.8h-0.8zM173.7 15.2h0.8v0.8h-0.8zM174.9 13.9h0.8v0.8h-0.8zM176.3 12.8h0.8v0.8h-0.8zM177.6 11.5h0.8v0.8h-0.8zM178.7 10.6h0.8v0.8h-0.8zM180.1 9.3h0.8v0.8h-0.8zM181.3 8.3h0.8v0.8h-0.8zM182.6 7.2h0.8v0.8h-0.8zM183.7 6.0h0.8v0.8h-0.8zM185.2 4.7h0.8v0.8h-0.8zM186.3 3.6h0.8v0.8h-0.8zM187.9 2.6h0.8v0.8h-0.8zM188.9 1.6h0.8v0.8h-0.8zM190.3 0.3h0.8v0.8h-0.8zM191.5 -1.0h0.8v0.8h-0.8zM110.8 73.6h0.8v0.8h-0.8zM112.3 72.5h0.8v0.8h-0.8zM113.5 71.3h0.8v0.8h-0.8zM114.7 70.3h0.8v0.8h-0.8zM115.9 69.1h0.8v0.8h-0.8zM117.1 68.0h0.8v0.8h-0.8zM118.5 66.7h0.8v0.8h-0.8zM119.8 65.7h0.8v0.8h-0.8zM121.0 64.4h0.8v0.8h-0.8zM122.4 63.4h0.8v0.8h-0.8zM123.5 62.3h0.8v0.8h-0.8zM124.9 61.0h0.8v0.8h-0.8zM126.1 59.9h0.8v0.8h-0.8zM127.5 58.8h0.8v0.8h-0.8zM128.7 57.6h0.8v0.8h-0.8zM129.9 56.4h0.8v0.8h-0.8zM131.2 55.3h0.8v0.8h-0.8zM132.6 54.3h0.8v0.8h-0.8zM133.6 53.1h0.8v0.8h-0.8zM135.1 52.1h0.8v0.8h-0.8zM136.2 50.8h0.8v0.8h-0.8zM137.4 49.7h0.8v0.8h-0.8zM138.8 48.5h0.8v0.8h-0.8zM140.1 47.5h0.8v0.8h-0.8zM141.3 46.5h0.8v0.8h-0.8zM142.6 45.1h0.8v0.8h-0.8zM143.8 44.1h0.8v0.8h-0.8zM145.1 42.8h0.8v0.8h-0.8zM146.3 41.8h0.8v0.8h-0.8zM147.7 40.7h0.8v0.8h-0.8zM148.8 39.4h0.8v0.8h-0.8zM150.1 38.5h0.8v0.8h-0.8zM151.4 37.1h0.8v0.8h-0.8zM152.7 36.0h0.8v0.8h-0.8zM153.9 35.1h0.8v0.8h-0.8zM155.2 33.9h0.8v0.8h-0.8zM156.4 32.7h0.8v0.8h-0.8zM157.7 31.5h0.8v0.8h-0.8zM159.0 30.3h0.8v0.8h-0.8zM160.4 29.2h0.8v0.8h-0.8zM161.6 28.2h0.8v0.8h-0.8zM162.7 27.1h0.8v0.8h-0.8zM164.2 25.8h0.8v0.8h-0.8zM165.2 24.8h0.8v0.8h-0.8zM166.7 23.6h0.8v0.8h-0.8zM167.7 22.4h0.8v0.8h-0.8zM169.1 21.4h0.8v0.8h-0.8zM170.4 20.3h0.8v0.8h-0.8zM171.7 19.0h0.8v0.8h-0.8zM173.0 17.9h0.8v0.8h-0.8zM174.1 16.7h0.8v0.8h-0.8zM175.4 15.6h0.8v0.8h-0.8zM176.8 14.5h0.8v0.8h-0.8zM178.0 13.3h0.8v0.8h-0.8zM179.2 12.3h0.8v0.8h-0.8zM180.5 11.0h0.8v0.8h-0.8zM181.6 10.0h0.8v0.8h-0.8zM183.1 8.8h0.8v0.8h-0.8zM184.3 7.7h0.8v0.8h-0.8zM185.5 6.4h0.8v0.8h-0.8zM186.8 5.4h0.8v0.8h-0.8zM188.2 4.3h0.8v0.8h-0.8zM189.2 3.2h0.8v0.8h-0.8zM190.4 2.0h0.8v0.8h-0.8zM191.8 0.8h0.8v0.8h-0.8zM193.0 -0.2h0.8v0.8h-0.8zM130.3 58.1h0.8v0.8h-0.8zM134.1 54.7h0.8v0.8h-0.8zM135.3 53.7h0.8v0.8h-0.8zM136.7 52.5h0.8v0.8h-0.8zM137.8 51.4h0.8v0.8h-0.8zM139.1 50.4h0.8v0.8h-0.8zM140.5 49.1h0.8v0.8h-0.8zM141.7 48.0h0.8v0.8h-0.8zM143.0 46.8h0.8v0.8h-0.8zM144.2 45.7h0.8v0.8h-0.8zM145.4 44.7h0.8v0.8h-0.8zM146.7 43.4h0.8v0.8h-0.8zM147.8 42.3h0.8v0.8h-0.8zM149.1 41.3h0.8v0.8h-0.8zM150.6 40.0h0.8v0.8h-0.8zM151.7 39.0h0.8v0.8h-0.8zM153.0 37.9h0.8v0.8h-0.8zM154.4 36.6h0.8v0.8h-0.8zM155.5 35.3h0.8v0.8h-0.8zM156.8 34.5h0.8v0.8h-0.8zM158.0 33.1h0.8v0.8h-0.8zM159.3 32.0h0.8v0.8h-0.8zM160.6 31.0h0.8v0.8h-0.8zM161.8 29.7h0.8v0.8h-0.8zM163.1 28.7h0.8v0.8h-0.8zM164.4 27.3h0.8v0.8h-0.8zM165.7 26.4h0.8v0.8h-0.8zM167.0 25.2h0.8v0.8h-0.8zM168.3 24.0h0.8v0.8h-0.8zM169.4 23.0h0.8v0.8h-0.8zM170.5 21.8h0.8v0.8h-0.8zM171.9 20.6h0.8v0.8h-0.8zM173.1 19.6h0.8v0.8h-0.8zM174.4 18.4h0.8v0.8h-0.8zM175.8 17.3h0.8v0.8h-0.8zM177.1 16.2h0.8v0.8h-0.8zM178.3 15.0h0.8v0.8h-0.8zM179.6 13.8h0.8v0.8h-0.8zM180.7 12.6h0.8v0.8h-0.8zM182.0 11.6h0.8v0.8h-0.8zM183.3 10.6h0.8v0.8h-0.8zM184.7 9.3h0.8v0.8h-0.8zM185.9 8.1h0.8v0.8h-0.8zM187.3 7.0h0.8v0.8h-0.8zM188.4 6.0h0.8v0.8h-0.8zM189.6 4.9h0.8v0.8h-0.8zM191.0 3.6h0.8v0.8h-0.8zM192.2 2.4h0.8v0.8h-0.8zM193.5 1.3h0.8v0.8h-0.8zM194.6 0.1h0.8v0.8h-0.8zM196.0 -1.0h0.8v0.8h-0.8zM160.9 32.5h0.8v0.8h-0.8zM163.3 30.3h0.8v0.8h-0.8zM164.7 29.3h0.8v0.8h-0.8zM165.9 28.0h0.8v0.8h-0.8zM167.2 26.8h0.8v0.8h-0.8zM168.4 25.8h0.8v0.8h-0.8zM169.8 24.5h0.8v0.8h-0.8zM171.0 23.5h0.8v0.8h-0.8zM172.4 22.3h0.8v0.8h-0.8zM173.6 21.1h0.8v0.8h-0.8zM174.8 19.9h0.8v0.8h-0.8zM176.1 18.8h0.8v0.8h-0.8zM177.2 17.8h0.8v0.8h-0.8zM178.6 16.7h0.8v0.8h-0.8zM179.9 15.6h0.8v0.8h-0.8zM181.2 14.3h0.8v0.8h-0.8zM182.4 13.3h0.8v0.8h-0.8zM183.8 12.1h0.8v0.8h-0.8zM184.8 11.0h0.8v0.8h-0.8zM186.3 9.9h0.8v0.8h-0.8zM187.5 8.6h0.8v0.8h-0.8zM188.7 7.6h0.8v0.8h-0.8zM190.0 6.3h0.8v0.8h-0.8zM191.3 5.2h0.8v0.8h-0.8zM192.7 4.1h0.8v0.8h-0.8zM193.6 3.0h0.8v0.8h-0.8zM195.0 1.9h0.8v0.8h-0.8zM196.3 0.8h0.8v0.8h-0.8zM197.6 -0.3h0.8v0.8h-0.8z" fill="#5e4f18" fill-opacity="0.4"/>
<path d="M180.0 -6.0L173.5 0.0L143.0 28.0L116.0 50.0L109.2 54.7L89.4 71.6L86.6 73.6L84.4 75.6L83.1 77.8L83.3 80.3L85.8 83.8L89.0 86.4L109.2 70.8L132.8 50.0L158.8 28.0L189.8 0.0L196.5 -6.0Z" fill="#9d8bb1" stroke="#4a3560" stroke-width="0.35" stroke-linejoin="round"/>
<polygon points="173.5,-0.5 143.0,28.0 116.0,50.0 109.2,54.7 89.4,71.6 86.6,73.6 84.8,75.2 87.5,75.2 91.0,73.0 111.5,56.8 118.3,51.8 145.5,28.0 176.2,-0.5" fill="#ab9bc2" opacity="0.6"/>
<path d="M83.7 77.3h0.9v0.9h-0.9zM84.9 76.2h0.9v0.9h-0.9zM85.9 75.1h0.9v0.9h-0.9zM87.1 74.2h0.9v0.9h-0.9zM88.2 73.0h0.9v0.9h-0.9zM89.4 72.2h0.9v0.9h-0.9zM90.7 71.1h0.9v0.9h-0.9zM91.8 70.0h0.9v0.9h-0.9zM92.9 68.9h0.9v0.9h-0.9zM94.0 67.9h0.9v0.9h-0.9zM95.1 66.8h0.9v0.9h-0.9zM96.3 65.8h0.9v0.9h-0.9zM97.5 64.9h0.9v0.9h-0.9zM98.6 63.8h0.9v0.9h-0.9zM99.8 62.7h0.9v0.9h-0.9zM100.9 61.8h0.9v0.9h-0.9zM102.1 60.7h0.9v0.9h-0.9zM103.3 59.7h0.9v0.9h-0.9zM104.3 58.6h0.9v0.9h-0.9zM105.5 57.7h0.9v0.9h-0.9zM106.7 56.5h0.9v0.9h-0.9zM108.9 54.6h0.9v0.9h-0.9zM83.9 78.9h0.9v0.9h-0.9zM85.0 77.9h0.9v0.9h-0.9zM86.3 76.7h0.9v0.9h-0.9zM87.4 75.6h0.9v0.9h-0.9zM88.5 74.5h0.9v0.9h-0.9zM89.8 73.5h0.9v0.9h-0.9zM90.9 72.6h0.9v0.9h-0.9zM91.9 71.6h0.9v0.9h-0.9zM93.3 70.5h0.9v0.9h-0.9zM94.3 69.4h0.9v0.9h-0.9zM95.4 68.3h0.9v0.9h-0.9zM96.6 67.5h0.9v0.9h-0.9zM97.8 66.5h0.9v0.9h-0.9zM98.9 65.4h0.9v0.9h-0.9zM100.0 64.3h0.9v0.9h-0.9zM101.2 63.2h0.9v0.9h-0.9zM102.3 62.1h0.9v0.9h-0.9zM103.5 61.0h0.9v0.9h-0.9zM104.6 60.1h0.9v0.9h-0.9zM105.8 59.2h0.9v0.9h-0.9zM107.0 57.9h0.9v0.9h-0.9zM108.0 57.0h0.9v0.9h-0.9zM109.3 56.1h0.9v0.9h-0.9zM110.3 55.0h0.9v0.9h-0.9zM111.7 53.9h0.9v0.9h-0.9zM112.8 52.9h0.9v0.9h-0.9zM114.0 51.9h0.9v0.9h-0.9zM115.0 50.8h0.9v0.9h-0.9zM116.1 49.8h0.9v0.9h-0.9zM117.4 48.7h0.9v0.9h-0.9zM118.5 47.6h0.9v0.9h-0.9zM119.6 46.6h0.9v0.9h-0.9zM84.1 80.3h0.9v0.9h-0.9zM85.4 79.1h0.9v0.9h-0.9zM86.5 78.2h0.9v0.9h-0.9zM87.8 77.1h0.9v0.9h-0.9zM88.8 76.1h0.9v0.9h-0.9zM89.9 75.2h0.9v0.9h-0.9zM91.2 74.0h0.9v0.9h-0.9zM92.5 73.0h0.9v0.9h-0.9zM93.5 72.1h0.9v0.9h-0.9zM94.7 71.0h0.9v0.9h-0.9zM95.7 69.9h0.9v0.9h-0.9zM96.8 68.8h0.9v0.9h-0.9zM98.1 68.0h0.9v0.9h-0.9zM99.2 66.9h0.9v0.9h-0.9zM100.5 65.7h0.9v0.9h-0.9zM101.6 64.7h0.9v0.9h-0.9zM102.7 63.7h0.9v0.9h-0.9zM103.8 62.6h0.9v0.9h-0.9zM105.0 61.7h0.9v0.9h-0.9zM106.2 60.7h0.9v0.9h-0.9zM107.2 59.6h0.9v0.9h-0.9zM108.6 58.6h0.9v0.9h-0.9zM109.7 57.5h0.9v0.9h-0.9zM110.8 56.5h0.9v0.9h-0.9zM111.8 55.4h0.9v0.9h-0.9zM112.9 54.3h0.9v0.9h-0.9zM114.2 53.4h0.9v0.9h-0.9zM115.3 52.3h0.9v0.9h-0.9zM116.4 51.3h0.9v0.9h-0.9zM117.7 50.3h0.9v0.9h-0.9zM118.9 49.1h0.9v0.9h-0.9zM119.8 48.2h0.9v0.9h-0.9zM121.0 47.2h0.9v0.9h-0.9zM122.1 46.1h0.9v0.9h-0.9zM123.4 44.9h0.9v0.9h-0.9zM124.6 43.9h0.9v0.9h-0.9zM125.9 43.0h0.9v0.9h-0.9zM127.0 41.9h0.9v0.9h-0.9zM128.1 41.0h0.9v0.9h-0.9zM129.2 39.8h0.9v0.9h-0.9zM130.4 38.7h0.9v0.9h-0.9zM131.6 37.8h0.9v0.9h-0.9zM132.6 36.7h0.9v0.9h-0.9zM133.8 35.6h0.9v0.9h-0.9zM134.8 34.6h0.9v0.9h-0.9zM136.1 33.7h0.9v0.9h-0.9zM137.3 32.7h0.9v0.9h-0.9zM138.5 31.5h0.9v0.9h-0.9zM139.7 30.5h0.9v0.9h-0.9zM140.7 29.6h0.9v0.9h-0.9zM144.1 26.5h0.9v0.9h-0.9zM146.5 24.3h0.9v0.9h-0.9zM147.6 23.3h0.9v0.9h-0.9zM148.7 22.3h0.9v0.9h-0.9zM149.9 21.2h0.9v0.9h-0.9zM151.0 20.2h0.9v0.9h-0.9zM152.2 19.1h0.9v0.9h-0.9zM153.3 18.1h0.9v0.9h-0.9zM154.6 17.1h0.9v0.9h-0.9zM155.6 16.0h0.9v0.9h-0.9zM156.7 14.9h0.9v0.9h-0.9zM158.1 14.0h0.9v0.9h-0.9zM159.0 12.9h0.9v0.9h-0.9zM160.3 11.9h0.9v0.9h-0.9zM161.4 10.8h0.9v0.9h-0.9zM162.6 9.9h0.9v0.9h-0.9zM163.7 8.8h0.9v0.9h-0.9zM165.0 7.7h0.9v0.9h-0.9zM166.1 6.7h0.9v0.9h-0.9zM167.2 5.6h0.9v0.9h-0.9zM168.3 4.5h0.9v0.9h-0.9zM169.5 3.5h0.9v0.9h-0.9zM170.7 2.5h0.9v0.9h-0.9zM171.8 1.4h0.9v0.9h-0.9zM173.0 0.4h0.9v0.9h-0.9zM174.0 -0.6h0.9v0.9h-0.9zM84.6 81.8h0.9v0.9h-0.9zM85.7 80.9h0.9v0.9h-0.9zM86.9 79.9h0.9v0.9h-0.9zM88.0 78.8h0.9v0.9h-0.9zM89.1 77.7h0.9v0.9h-0.9zM90.3 76.8h0.9v0.9h-0.9zM91.4 75.6h0.9v0.9h-0.9zM92.6 74.5h0.9v0.9h-0.9zM93.9 73.5h0.9v0.9h-0.9zM95.1 72.5h0.9v0.9h-0.9zM96.1 71.5h0.9v0.9h-0.9zM97.3 70.4h0.9v0.9h-0.9zM98.4 69.4h0.9v0.9h-0.9zM99.5 68.4h0.9v0.9h-0.9zM100.6 67.3h0.9v0.9h-0.9zM101.8 66.2h0.9v0.9h-0.9zM102.9 65.2h0.9v0.9h-0.9zM104.1 64.1h0.9v0.9h-0.9zM105.3 63.1h0.9v0.9h-0.9zM106.5 62.0h0.9v0.9h-0.9zM107.5 61.1h0.9v0.9h-0.9zM108.7 60.1h0.9v0.9h-0.9zM109.9 59.1h0.9v0.9h-0.9zM111.2 58.0h0.9v0.9h-0.9zM112.3 56.8h0.9v0.9h-0.9zM113.2 55.9h0.9v0.9h-0.9zM114.6 54.8h0.9v0.9h-0.9zM115.6 53.8h0.9v0.9h-0.9zM116.9 52.8h0.9v0.9h-0.9zM118.1 51.7h0.9v0.9h-0.9zM119.2 50.7h0.9v0.9h-0.9zM120.3 49.7h0.9v0.9h-0.9zM121.5 48.7h0.9v0.9h-0.9zM122.5 47.7h0.9v0.9h-0.9zM123.8 46.7h0.9v0.9h-0.9zM125.0 45.5h0.9v0.9h-0.9zM126.0 44.5h0.9v0.9h-0.9zM127.3 43.3h0.9v0.9h-0.9zM128.4 42.4h0.9v0.9h-0.9zM129.6 41.5h0.9v0.9h-0.9zM130.7 40.4h0.9v0.9h-0.9zM132.0 39.3h0.9v0.9h-0.9zM133.0 38.3h0.9v0.9h-0.9zM134.0 37.2h0.9v0.9h-0.9zM135.4 36.1h0.9v0.9h-0.9zM136.3 35.2h0.9v0.9h-0.9zM137.6 34.2h0.9v0.9h-0.9zM138.7 33.0h0.9v0.9h-0.9zM140.0 32.1h0.9v0.9h-0.9zM140.9 31.0h0.9v0.9h-0.9zM142.1 30.0h0.9v0.9h-0.9zM143.4 28.9h0.9v0.9h-0.9zM144.4 27.9h0.9v0.9h-0.9zM145.6 26.9h0.9v0.9h-0.9zM146.8 25.7h0.9v0.9h-0.9zM148.0 24.7h0.9v0.9h-0.9zM149.1 23.8h0.9v0.9h-0.9zM150.3 22.7h0.9v0.9h-0.9zM151.4 21.6h0.9v0.9h-0.9zM152.6 20.8h0.9v0.9h-0.9zM153.7 19.6h0.9v0.9h-0.9zM154.9 18.6h0.9v0.9h-0.9zM156.0 17.4h0.9v0.9h-0.9zM157.1 16.5h0.9v0.9h-0.9zM158.3 15.5h0.9v0.9h-0.9zM159.3 14.4h0.9v0.9h-0.9zM160.5 13.4h0.9v0.9h-0.9zM161.7 12.3h0.9v0.9h-0.9zM163.1 11.3h0.9v0.9h-0.9zM164.0 10.3h0.9v0.9h-0.9zM165.3 9.3h0.9v0.9h-0.9zM166.3 8.3h0.9v0.9h-0.9zM167.6 7.2h0.9v0.9h-0.9zM168.8 6.1h0.9v0.9h-0.9zM169.8 5.1h0.9v0.9h-0.9zM170.9 4.0h0.9v0.9h-0.9zM172.1 3.0h0.9v0.9h-0.9zM173.3 1.9h0.9v0.9h-0.9zM174.3 0.9h0.9v0.9h-0.9zM175.5 -0.1h0.9v0.9h-0.9zM176.7 -1.2h0.9v0.9h-0.9zM86.0 82.2h0.9v0.9h-0.9zM87.2 81.4h0.9v0.9h-0.9zM88.5 80.2h0.9v0.9h-0.9zM89.6 79.1h0.9v0.9h-0.9zM90.7 78.1h0.9v0.9h-0.9zM91.8 77.2h0.9v0.9h-0.9zM93.1 76.1h0.9v0.9h-0.9zM94.2 75.1h0.9v0.9h-0.9zM95.2 74.1h0.9v0.9h-0.9zM96.5 73.0h0.9v0.9h-0.9zM97.4 71.9h0.9v0.9h-0.9zM98.7 70.9h0.9v0.9h-0.9zM99.9 69.8h0.9v0.9h-0.9zM101.1 68.9h0.9v0.9h-0.9zM102.2 67.7h0.9v0.9h-0.9zM103.4 66.8h0.9v0.9h-0.9zM104.4 65.6h0.9v0.9h-0.9zM105.5 64.7h0.9v0.9h-0.9zM106.8 63.5h0.9v0.9h-0.9zM108.0 62.4h0.9v0.9h-0.9zM108.9 61.6h0.9v0.9h-0.9zM110.3 60.4h0.9v0.9h-0.9zM111.5 59.5h0.9v0.9h-0.9zM112.5 58.4h0.9v0.9h-0.9zM113.6 57.3h0.9v0.9h-0.9zM114.9 56.4h0.9v0.9h-0.9zM116.0 55.2h0.9v0.9h-0.9zM117.2 54.4h0.9v0.9h-0.9zM118.3 53.2h0.9v0.9h-0.9zM119.5 52.1h0.9v0.9h-0.9zM120.7 51.1h0.9v0.9h-0.9zM121.9 50.1h0.9v0.9h-0.9zM122.9 49.1h0.9v0.9h-0.9zM124.0 48.2h0.9v0.9h-0.9zM125.3 47.0h0.9v0.9h-0.9zM126.5 46.0h0.9v0.9h-0.9zM127.4 45.0h0.9v0.9h-0.9zM128.7 44.0h0.9v0.9h-0.9zM129.8 43.0h0.9v0.9h-0.9zM131.0 41.9h0.9v0.9h-0.9zM132.2 40.7h0.9v0.9h-0.9zM133.3 39.8h0.9v0.9h-0.9zM134.5 38.7h0.9v0.9h-0.9zM135.5 37.6h0.9v0.9h-0.9zM136.7 36.6h0.9v0.9h-0.9zM137.8 35.5h0.9v0.9h-0.9zM139.0 34.4h0.9v0.9h-0.9zM140.3 33.5h0.9v0.9h-0.9zM141.3 32.5h0.9v0.9h-0.9zM142.4 31.4h0.9v0.9h-0.9zM143.7 30.4h0.9v0.9h-0.9zM144.8 29.3h0.9v0.9h-0.9zM146.1 28.3h0.9v0.9h-0.9zM147.0 27.3h0.9v0.9h-0.9zM148.4 26.2h0.9v0.9h-0.9zM149.5 25.2h0.9v0.9h-0.9zM150.5 24.2h0.9v0.9h-0.9zM151.8 23.1h0.9v0.9h-0.9zM152.9 22.2h0.9v0.9h-0.9zM153.9 21.1h0.9v0.9h-0.9zM155.2 20.0h0.9v0.9h-0.9zM156.3 18.9h0.9v0.9h-0.9zM157.4 18.0h0.9v0.9h-0.9zM158.7 17.0h0.9v0.9h-0.9zM159.8 15.9h0.9v0.9h-0.9zM160.8 14.8h0.9v0.9h-0.9zM162.0 13.8h0.9v0.9h-0.9zM163.3 12.8h0.9v0.9h-0.9zM164.4 11.8h0.9v0.9h-0.9zM165.6 10.7h0.9v0.9h-0.9zM166.7 9.7h0.9v0.9h-0.9zM167.9 8.6h0.9v0.9h-0.9zM168.9 7.6h0.9v0.9h-0.9zM170.2 6.7h0.9v0.9h-0.9zM171.2 5.6h0.9v0.9h-0.9zM172.4 4.6h0.9v0.9h-0.9zM173.6 3.4h0.9v0.9h-0.9zM174.6 2.4h0.9v0.9h-0.9zM175.9 1.2h0.9v0.9h-0.9zM177.2 0.4h0.9v0.9h-0.9zM178.2 -0.7h0.9v0.9h-0.9zM86.4 83.9h0.9v0.9h-0.9zM87.4 82.9h0.9v0.9h-0.9zM88.7 81.7h0.9v0.9h-0.9zM89.8 80.8h0.9v0.9h-0.9zM91.1 79.6h0.9v0.9h-0.9zM92.1 78.5h0.9v0.9h-0.9zM93.3 77.6h0.9v0.9h-0.9zM94.3 76.5h0.9v0.9h-0.9zM95.6 75.4h0.9v0.9h-0.9zM96.7 74.4h0.9v0.9h-0.9zM97.9 73.5h0.9v0.9h-0.9zM99.0 72.4h0.9v0.9h-0.9zM100.2 71.4h0.9v0.9h-0.9zM101.5 70.4h0.9v0.9h-0.9zM102.5 69.2h0.9v0.9h-0.9zM103.7 68.2h0.9v0.9h-0.9zM104.8 67.3h0.9v0.9h-0.9zM106.0 66.1h0.9v0.9h-0.9zM107.0 65.1h0.9v0.9h-0.9zM108.2 64.2h0.9v0.9h-0.9zM109.5 63.1h0.9v0.9h-0.9zM110.6 62.0h0.9v0.9h-0.9zM111.7 60.9h0.9v0.9h-0.9zM112.9 60.0h0.9v0.9h-0.9zM114.1 58.9h0.9v0.9h-0.9zM115.2 58.0h0.9v0.9h-0.9zM116.4 56.9h0.9v0.9h-0.9zM117.4 55.8h0.9v0.9h-0.9zM118.6 54.9h0.9v0.9h-0.9zM119.8 53.7h0.9v0.9h-0.9zM121.0 52.7h0.9v0.9h-0.9zM122.1 51.8h0.9v0.9h-0.9zM123.2 50.6h0.9v0.9h-0.9zM124.3 49.6h0.9v0.9h-0.9zM125.6 48.6h0.9v0.9h-0.9zM126.6 47.4h0.9v0.9h-0.9zM127.8 46.4h0.9v0.9h-0.9zM129.1 45.4h0.9v0.9h-0.9zM130.2 44.4h0.9v0.9h-0.9zM131.3 43.2h0.9v0.9h-0.9zM132.4 42.4h0.9v0.9h-0.9zM133.6 41.3h0.9v0.9h-0.9zM134.8 40.1h0.9v0.9h-0.9zM135.9 39.3h0.9v0.9h-0.9zM137.0 38.3h0.9v0.9h-0.9zM138.2 37.1h0.9v0.9h-0.9zM139.3 36.1h0.9v0.9h-0.9zM140.4 35.0h0.9v0.9h-0.9zM141.6 34.0h0.9v0.9h-0.9zM142.7 33.0h0.9v0.9h-0.9zM144.0 32.0h0.9v0.9h-0.9zM145.1 30.8h0.9v0.9h-0.9zM146.2 29.8h0.9v0.9h-0.9zM147.5 28.8h0.9v0.9h-0.9zM148.6 27.7h0.9v0.9h-0.9zM149.9 26.8h0.9v0.9h-0.9zM150.8 25.7h0.9v0.9h-0.9zM151.9 24.7h0.9v0.9h-0.9zM153.1 23.6h0.9v0.9h-0.9zM154.3 22.7h0.9v0.9h-0.9zM155.5 21.7h0.9v0.9h-0.9zM156.7 20.6h0.9v0.9h-0.9zM157.9 19.5h0.9v0.9h-0.9zM159.1 18.5h0.9v0.9h-0.9zM160.1 17.5h0.9v0.9h-0.9zM161.3 16.5h0.9v0.9h-0.9zM162.5 15.4h0.9v0.9h-0.9zM163.6 14.2h0.9v0.9h-0.9zM164.7 13.2h0.9v0.9h-0.9zM165.9 12.2h0.9v0.9h-0.9zM167.0 11.2h0.9v0.9h-0.9zM168.1 10.2h0.9v0.9h-0.9zM169.3 9.1h0.9v0.9h-0.9zM170.3 8.1h0.9v0.9h-0.9zM171.6 7.0h0.9v0.9h-0.9zM172.9 6.1h0.9v0.9h-0.9zM174.0 5.0h0.9v0.9h-0.9zM175.2 3.9h0.9v0.9h-0.9zM176.2 3.0h0.9v0.9h-0.9zM177.4 1.8h0.9v0.9h-0.9zM178.4 0.9h0.9v0.9h-0.9zM179.8 -0.1h0.9v0.9h-0.9zM88.0 84.3h0.9v0.9h-0.9zM89.0 83.3h0.9v0.9h-0.9zM90.3 82.2h0.9v0.9h-0.9zM91.4 81.2h0.9v0.9h-0.9zM92.5 80.0h0.9v0.9h-0.9zM93.6 79.2h0.9v0.9h-0.9zM94.7 78.1h0.9v0.9h-0.9zM96.0 77.1h0.9v0.9h-0.9zM97.2 76.0h0.9v0.9h-0.9zM98.2 75.0h0.9v0.9h-0.9zM99.4 73.8h0.9v0.9h-0.9zM100.7 72.9h0.9v0.9h-0.9zM101.6 71.9h0.9v0.9h-0.9zM102.7 70.8h0.9v0.9h-0.9zM104.0 69.8h0.9v0.9h-0.9zM105.2 68.7h0.9v0.9h-0.9zM106.3 67.8h0.9v0.9h-0.9zM107.5 66.7h0.9v0.9h-0.9zM108.7 65.7h0.9v0.9h-0.9zM109.6 64.6h0.9v0.9h-0.9zM111.0 63.5h0.9v0.9h-0.9zM112.0 62.5h0.9v0.9h-0.9zM113.3 61.5h0.9v0.9h-0.9zM114.4 60.4h0.9v0.9h-0.9zM115.5 59.3h0.9v0.9h-0.9zM116.6 58.5h0.9v0.9h-0.9zM117.8 57.2h0.9v0.9h-0.9zM119.0 56.4h0.9v0.9h-0.9zM120.1 55.1h0.9v0.9h-0.9zM121.2 54.1h0.9v0.9h-0.9zM122.3 53.1h0.9v0.9h-0.9zM123.6 52.2h0.9v0.9h-0.9zM124.7 51.2h0.9v0.9h-0.9zM125.8 50.1h0.9v0.9h-0.9zM127.0 49.1h0.9v0.9h-0.9zM128.2 47.9h0.9v0.9h-0.9zM129.2 47.0h0.9v0.9h-0.9zM130.5 46.0h0.9v0.9h-0.9zM131.6 44.8h0.9v0.9h-0.9zM132.7 43.9h0.9v0.9h-0.9zM133.9 42.7h0.9v0.9h-0.9zM135.2 41.7h0.9v0.9h-0.9zM136.3 40.7h0.9v0.9h-0.9zM137.4 39.8h0.9v0.9h-0.9zM138.6 38.6h0.9v0.9h-0.9zM139.6 37.7h0.9v0.9h-0.9zM140.8 36.7h0.9v0.9h-0.9zM142.1 35.5h0.9v0.9h-0.9zM143.1 34.5h0.9v0.9h-0.9zM144.3 33.5h0.9v0.9h-0.9zM145.5 32.4h0.9v0.9h-0.9zM146.5 31.4h0.9v0.9h-0.9zM147.7 30.5h0.9v0.9h-0.9zM148.8 29.2h0.9v0.9h-0.9zM150.0 28.2h0.9v0.9h-0.9zM151.2 27.3h0.9v0.9h-0.9zM152.4 26.3h0.9v0.9h-0.9zM153.4 25.1h0.9v0.9h-0.9zM154.6 24.1h0.9v0.9h-0.9zM155.8 23.2h0.9v0.9h-0.9zM156.9 22.2h0.9v0.9h-0.9zM158.1 21.0h0.9v0.9h-0.9zM159.3 20.0h0.9v0.9h-0.9zM160.5 19.0h0.9v0.9h-0.9zM161.5 17.8h0.9v0.9h-0.9zM162.7 17.0h0.9v0.9h-0.9zM163.8 15.9h0.9v0.9h-0.9zM165.1 14.8h0.9v0.9h-0.9zM166.2 13.7h0.9v0.9h-0.9zM167.3 12.7h0.9v0.9h-0.9zM168.6 11.6h0.9v0.9h-0.9zM169.6 10.6h0.9v0.9h-0.9zM170.8 9.7h0.9v0.9h-0.9zM172.0 8.6h0.9v0.9h-0.9zM173.0 7.5h0.9v0.9h-0.9zM174.3 6.6h0.9v0.9h-0.9zM175.5 5.5h0.9v0.9h-0.9zM176.6 4.5h0.9v0.9h-0.9zM177.6 3.4h0.9v0.9h-0.9zM178.9 2.3h0.9v0.9h-0.9zM179.9 1.3h0.9v0.9h-0.9zM181.1 0.2h0.9v0.9h-0.9zM182.3 -0.6h0.9v0.9h-0.9zM89.3 84.8h0.9v0.9h-0.9zM90.5 83.6h0.9v0.9h-0.9zM91.6 82.8h0.9v0.9h-0.9zM92.8 81.8h0.9v0.9h-0.9zM93.8 80.6h0.9v0.9h-0.9zM95.0 79.6h0.9v0.9h-0.9zM96.3 78.4h0.9v0.9h-0.9zM97.4 77.5h0.9v0.9h-0.9zM98.5 76.3h0.9v0.9h-0.9zM99.7 75.3h0.9v0.9h-0.9zM100.7 74.4h0.9v0.9h-0.9zM102.0 73.2h0.9v0.9h-0.9zM103.1 72.3h0.9v0.9h-0.9zM104.3 71.3h0.9v0.9h-0.9zM105.5 70.4h0.9v0.9h-0.9zM106.8 69.2h0.9v0.9h-0.9zM107.8 68.2h0.9v0.9h-0.9zM108.9 67.1h0.9v0.9h-0.9zM110.1 66.0h0.9v0.9h-0.9zM111.2 65.1h0.9v0.9h-0.9zM112.4 64.1h0.9v0.9h-0.9zM113.5 62.9h0.9v0.9h-0.9zM114.6 62.0h0.9v0.9h-0.9zM115.7 60.9h0.9v0.9h-0.9zM116.9 59.9h0.9v0.9h-0.9zM118.2 58.8h0.9v0.9h-0.9zM119.2 57.8h0.9v0.9h-0.9zM120.4 56.9h0.9v0.9h-0.9zM121.6 55.6h0.9v0.9h-0.9zM122.7 54.7h0.9v0.9h-0.9zM123.9 53.7h0.9v0.9h-0.9zM124.9 52.7h0.9v0.9h-0.9zM126.1 51.6h0.9v0.9h-0.9zM127.3 50.5h0.9v0.9h-0.9zM128.6 49.4h0.9v0.9h-0.9zM129.7 48.3h0.9v0.9h-0.9zM130.8 47.5h0.9v0.9h-0.9zM131.9 46.4h0.9v0.9h-0.9zM133.0 45.4h0.9v0.9h-0.9zM134.3 44.4h0.9v0.9h-0.9zM135.4 43.2h0.9v0.9h-0.9zM136.6 42.2h0.9v0.9h-0.9zM137.6 41.2h0.9v0.9h-0.9zM138.9 40.3h0.9v0.9h-0.9zM139.9 39.2h0.9v0.9h-0.9zM141.2 38.1h0.9v0.9h-0.9zM142.4 37.0h0.9v0.9h-0.9zM143.5 36.0h0.9v0.9h-0.9zM144.6 35.0h0.9v0.9h-0.9zM145.6 34.0h0.9v0.9h-0.9zM146.9 32.9h0.9v0.9h-0.9zM148.1 31.9h0.9v0.9h-0.9zM149.2 30.7h0.9v0.9h-0.9zM150.3 29.8h0.9v0.9h-0.9zM151.6 28.8h0.9v0.9h-0.9zM152.6 27.6h0.9v0.9h-0.9zM153.7 26.7h0.9v0.9h-0.9zM155.1 25.7h0.9v0.9h-0.9zM156.2 24.7h0.9v0.9h-0.9zM157.2 23.7h0.9v0.9h-0.9zM158.4 22.6h0.9v0.9h-0.9zM159.5 21.5h0.9v0.9h-0.9zM160.8 20.4h0.9v0.9h-0.9zM161.9 19.4h0.9v0.9h-0.9zM163.1 18.3h0.9v0.9h-0.9zM164.1 17.3h0.9v0.9h-0.9zM165.4 16.3h0.9v0.9h-0.9zM166.5 15.4h0.9v0.9h-0.9zM167.6 14.3h0.9v0.9h-0.9zM168.8 13.2h0.9v0.9h-0.9zM169.9 12.2h0.9v0.9h-0.9zM171.0 11.1h0.9v0.9h-0.9zM172.2 10.2h0.9v0.9h-0.9zM173.4 9.0h0.9v0.9h-0.9zM174.5 8.0h0.9v0.9h-0.9zM175.7 7.1h0.9v0.9h-0.9zM177.0 6.0h0.9v0.9h-0.9zM178.0 5.0h0.9v0.9h-0.9zM179.2 3.9h0.9v0.9h-0.9zM180.3 2.8h0.9v0.9h-0.9zM181.4 1.7h0.9v0.9h-0.9zM182.8 0.8h0.9v0.9h-0.9zM183.7 -0.2h0.9v0.9h-0.9zM102.2 74.8h0.9v0.9h-0.9zM103.5 73.9h0.9v0.9h-0.9zM104.7 72.7h0.9v0.9h-0.9zM105.6 71.8h0.9v0.9h-0.9zM106.9 70.6h0.9v0.9h-0.9zM108.1 69.9h0.9v0.9h-0.9zM109.2 68.8h0.9v0.9h-0.9zM110.5 67.6h0.9v0.9h-0.9zM111.5 66.6h0.9v0.9h-0.9zM112.7 65.4h0.9v0.9h-0.9zM113.9 64.5h0.9v0.9h-0.9zM114.9 63.5h0.9v0.9h-0.9zM116.1 62.4h0.9v0.9h-0.9zM117.3 61.3h0.9v0.9h-0.9zM118.4 60.3h0.9v0.9h-0.9zM119.5 59.2h0.9v0.9h-0.9zM120.7 58.3h0.9v0.9h-0.9zM121.9 57.4h0.9v0.9h-0.9zM123.0 56.2h0.9v0.9h-0.9zM124.1 55.3h0.9v0.9h-0.9zM125.3 54.1h0.9v0.9h-0.9zM126.6 53.2h0.9v0.9h-0.9zM127.7 52.0h0.9v0.9h-0.9zM128.7 50.9h0.9v0.9h-0.9zM129.9 50.0h0.9v0.9h-0.9zM131.1 48.9h0.9v0.9h-0.9zM132.3 48.0h0.9v0.9h-0.9zM133.4 46.8h0.9v0.9h-0.9zM134.6 45.7h0.9v0.9h-0.9zM135.6 44.8h0.9v0.9h-0.9zM136.8 43.9h0.9v0.9h-0.9zM138.1 42.7h0.9v0.9h-0.9zM139.1 41.7h0.9v0.9h-0.9zM140.5 40.6h0.9v0.9h-0.9zM141.5 39.8h0.9v0.9h-0.9zM142.6 38.6h0.9v0.9h-0.9zM143.8 37.7h0.9v0.9h-0.9zM145.0 36.5h0.9v0.9h-0.9zM146.0 35.5h0.9v0.9h-0.9zM147.3 34.4h0.9v0.9h-0.9zM148.3 33.4h0.9v0.9h-0.9zM149.5 32.4h0.9v0.9h-0.9zM150.7 31.4h0.9v0.9h-0.9zM151.9 30.2h0.9v0.9h-0.9zM153.0 29.1h0.9v0.9h-0.9zM154.1 28.2h0.9v0.9h-0.9zM155.3 27.2h0.9v0.9h-0.9zM156.4 26.0h0.9v0.9h-0.9zM157.6 25.1h0.9v0.9h-0.9zM158.8 24.0h0.9v0.9h-0.9zM159.9 23.1h0.9v0.9h-0.9zM161.0 22.0h0.9v0.9h-0.9zM162.2 20.8h0.9v0.9h-0.9zM163.5 20.0h0.9v0.9h-0.9zM164.6 18.8h0.9v0.9h-0.9zM165.6 18.0h0.9v0.9h-0.9zM166.8 16.8h0.9v0.9h-0.9zM168.0 15.7h0.9v0.9h-0.9zM169.0 14.7h0.9v0.9h-0.9zM170.3 13.6h0.9v0.9h-0.9zM171.6 12.7h0.9v0.9h-0.9zM172.5 11.6h0.9v0.9h-0.9zM173.8 10.5h0.9v0.9h-0.9zM174.9 9.5h0.9v0.9h-0.9zM176.0 8.6h0.9v0.9h-0.9zM177.1 7.5h0.9v0.9h-0.9zM178.3 6.5h0.9v0.9h-0.9zM179.5 5.4h0.9v0.9h-0.9zM180.7 4.4h0.9v0.9h-0.9zM181.9 3.3h0.9v0.9h-0.9zM183.0 2.3h0.9v0.9h-0.9zM184.1 1.3h0.9v0.9h-0.9zM185.3 0.2h0.9v0.9h-0.9zM186.4 -0.8h0.9v0.9h-0.9zM137.1 45.2h0.9v0.9h-0.9zM138.3 44.2h0.9v0.9h-0.9zM140.7 42.1h0.9v0.9h-0.9zM141.7 41.1h0.9v0.9h-0.9zM142.9 40.0h0.9v0.9h-0.9zM144.2 39.0h0.9v0.9h-0.9zM145.3 37.9h0.9v0.9h-0.9zM146.3 37.0h0.9v0.9h-0.9zM147.6 35.9h0.9v0.9h-0.9zM148.8 35.0h0.9v0.9h-0.9zM149.9 34.0h0.9v0.9h-0.9zM150.9 32.9h0.9v0.9h-0.9zM152.3 31.9h0.9v0.9h-0.9zM153.4 30.7h0.9v0.9h-0.9zM154.4 29.7h0.9v0.9h-0.9zM155.5 28.7h0.9v0.9h-0.9zM156.8 27.7h0.9v0.9h-0.9zM157.9 26.7h0.9v0.9h-0.9zM159.2 25.6h0.9v0.9h-0.9zM160.3 24.6h0.9v0.9h-0.9zM161.4 23.4h0.9v0.9h-0.9zM162.6 22.5h0.9v0.9h-0.9zM163.7 21.3h0.9v0.9h-0.9zM164.9 20.4h0.9v0.9h-0.9zM166.1 19.4h0.9v0.9h-0.9zM167.1 18.3h0.9v0.9h-0.9zM168.4 17.2h0.9v0.9h-0.9zM169.3 16.3h0.9v0.9h-0.9zM170.6 15.1h0.9v0.9h-0.9zM171.7 14.1h0.9v0.9h-0.9zM173.0 13.2h0.9v0.9h-0.9zM174.2 12.1h0.9v0.9h-0.9zM175.3 11.0h0.9v0.9h-0.9zM176.4 9.9h0.9v0.9h-0.9zM177.5 9.1h0.9v0.9h-0.9zM178.6 8.0h0.9v0.9h-0.9zM179.8 6.8h0.9v0.9h-0.9zM180.9 5.8h0.9v0.9h-0.9zM182.1 4.8h0.9v0.9h-0.9zM183.2 3.8h0.9v0.9h-0.9zM184.3 2.7h0.9v0.9h-0.9zM185.4 1.7h0.9v0.9h-0.9zM186.7 0.8h0.9v0.9h-0.9zM187.9 -0.4h0.9v0.9h-0.9z" fill="#33204a" fill-opacity="0.5"/>
</g>
<g stroke="#f68f55" stroke-width="0.42" fill="none">
<path d="M146.9 41.6H178"/><path d="M128.6 47.7H143.2V60.4M133.6 60.4H178"/><path d="M102.4 79.9H178"/><path d="M96.8 99.6H178"/>
</g>
<g fill="#fb6c10">
<circle cx="146.9" cy="41.6" r="1.15"/>
<circle cx="128.6" cy="47.7" r="1.15"/>
<circle cx="133.6" cy="60.4" r="1.15"/>
<circle cx="102.4" cy="79.9" r="1.15"/>
<circle cx="96.8" cy="99.6" r="1.15"/>
<path d="M179.9 41.6L177.3 40.5V42.7Z"/>
<path d="M179.9 60.4L177.3 59.3V61.5Z"/>
<path d="M179.9 79.9L177.3 78.80000000000001V81.0Z"/>
<path d="M179.9 99.6L177.3 98.5V100.69999999999999Z"/>
</g>
<g text-rendering="geometricPrecision" font-family="'Liberation Serif',serif" font-size="4.65" fill="#1a1a1a" stroke="#1a1a1a" stroke-width="0.1">
<text x="180.4" y="40.9">NiZn ferrite</text>
<text x="180.4" y="60.7">aluminum alloy</text>
<text x="180.4" y="79.1">transformer oil</text>
<text x="180.4" y="99.7">coil</text>
</g>
<rect x="232.9" y="40.3" width="111.2" height="9.2" rx="1.6" fill="#2a2a70"/><g fill="#8383d2"><circle cx="234.70" cy="42.4" r="1.32"/><circle cx="234.70" cy="47.4" r="1.32"/><circle cx="234.70" cy="44.9" r="0.7" opacity="0.35"/><circle cx="238.16" cy="42.4" r="1.32"/><circle cx="238.16" cy="47.4" r="1.32"/><circle cx="238.16" cy="44.9" r="0.7" opacity="0.35"/><circle cx="241.62" cy="42.4" r="1.32"/><circle cx="241.62" cy="47.4" r="1.32"/><circle cx="241.62" cy="44.9" r="0.7" opacity="0.35"/><circle cx="245.08" cy="42.4" r="1.32"/><circle cx="245.08" cy="47.4" r="1.32"/><circle cx="245.08" cy="44.9" r="0.7" opacity="0.35"/><circle cx="248.54" cy="42.4" r="1.32"/><circle cx="248.54" cy="47.4" r="1.32"/><circle cx="248.54" cy="44.9" r="0.7" opacity="0.35"/><circle cx="252.00" cy="42.4" r="1.32"/><circle cx="252.00" cy="47.4" r="1.32"/><circle cx="252.00" cy="44.9" r="0.7" opacity="0.35"/><circle cx="255.46" cy="42.4" r="1.32"/><circle cx="255.46" cy="47.4" r="1.32"/><circle cx="255.46" cy="44.9" r="0.7" opacity="0.35"/><circle cx="258.92" cy="42.4" r="1.32"/><circle cx="258.92" cy="47.4" r="1.32"/><circle cx="258.92" cy="44.9" r="0.7" opacity="0.35"/><circle cx="262.38" cy="42.4" r="1.32"/><circle cx="262.38" cy="47.4" r="1.32"/><circle cx="262.38" cy="44.9" r="0.7" opacity="0.35"/><circle cx="265.84" cy="42.4" r="1.32"/><circle cx="265.84" cy="47.4" r="1.32"/><circle cx="265.84" cy="44.9" r="0.7" opacity="0.35"/><circle cx="269.30" cy="42.4" r="1.32"/><circle cx="269.30" cy="47.4" r="1.32"/><circle cx="269.30" cy="44.9" r="0.7" opacity="0.35"/><circle cx="272.76" cy="42.4" r="1.32"/><circle cx="272.76" cy="47.4" r="1.32"/><circle cx="272.76" cy="44.9" r="0.7" opacity="0.35"/><circle cx="276.22" cy="42.4" r="1.32"/><circle cx="276.22" cy="47.4" r="1.32"/><circle cx="276.22" cy="44.9" r="0.7" opacity="0.35"/><circle cx="279.68" cy="42.4" r="1.32"/><circle cx="279.68" cy="47.4" r="1.32"/><circle cx="279.68" cy="44.9" r="0.7" opacity="0.35"/><circle cx="283.14" cy="42.4" r="1.32"/><circle cx="283.14" cy="47.4" r="1.32"/><circle cx="283.14" cy="44.9" r="0.7" opacity="0.35"/><circle cx="286.60" cy="42.4" r="1.32"/><circle cx="286.60" cy="47.4" r="1.32"/><circle cx="286.60" cy="44.9" r="0.7" opacity="0.35"/><circle cx="290.06" cy="42.4" r="1.32"/><circle cx="290.06" cy="47.4" r="1.32"/><circle cx="290.06" cy="44.9" r="0.7" opacity="0.35"/><circle cx="293.52" cy="42.4" r="1.32"/><circle cx="293.52" cy="47.4" r="1.32"/><circle cx="293.52" cy="44.9" r="0.7" opacity="0.35"/><circle cx="296.98" cy="42.4" r="1.32"/><circle cx="296.98" cy="47.4" r="1.32"/><circle cx="296.98" cy="44.9" r="0.7" opacity="0.35"/><circle cx="300.44" cy="42.4" r="1.32"/><circle cx="300.44" cy="47.4" r="1.32"/><circle cx="300.44" cy="44.9" r="0.7" opacity="0.35"/><circle cx="303.90" cy="42.4" r="1.32"/><circle cx="303.90" cy="47.4" r="1.32"/><circle cx="303.90" cy="44.9" r="0.7" opacity="0.35"/><circle cx="307.36" cy="42.4" r="1.32"/><circle cx="307.36" cy="47.4" r="1.32"/><circle cx="307.36" cy="44.9" r="0.7" opacity="0.35"/><circle cx="310.82" cy="42.4" r="1.32"/><circle cx="310.82" cy="47.4" r="1.32"/><circle cx="310.82" cy="44.9" r="0.7" opacity="0.35"/><circle cx="314.28" cy="42.4" r="1.32"/><circle cx="314.28" cy="47.4" r="1.32"/><circle cx="314.28" cy="44.9" r="0.7" opacity="0.35"/><circle cx="317.74" cy="42.4" r="1.32"/><circle cx="317.74" cy="47.4" r="1.32"/><circle cx="317.74" cy="44.9" r="0.7" opacity="0.35"/><circle cx="321.20" cy="42.4" r="1.32"/><circle cx="321.20" cy="47.4" r="1.32"/><circle cx="321.20" cy="44.9" r="0.7" opacity="0.35"/><circle cx="324.66" cy="42.4" r="1.32"/><circle cx="324.66" cy="47.4" r="1.32"/><circle cx="324.66" cy="44.9" r="0.7" opacity="0.35"/><circle cx="328.12" cy="42.4" r="1.32"/><circle cx="328.12" cy="47.4" r="1.32"/><circle cx="328.12" cy="44.9" r="0.7" opacity="0.35"/><circle cx="331.58" cy="42.4" r="1.32"/><circle cx="331.58" cy="47.4" r="1.32"/><circle cx="331.58" cy="44.9" r="0.7" opacity="0.35"/><circle cx="335.04" cy="42.4" r="1.32"/><circle cx="335.04" cy="47.4" r="1.32"/><circle cx="335.04" cy="44.9" r="0.7" opacity="0.35"/><circle cx="338.50" cy="42.4" r="1.32"/><circle cx="338.50" cy="47.4" r="1.32"/><circle cx="338.50" cy="44.9" r="0.7" opacity="0.35"/><circle cx="341.96" cy="42.4" r="1.32"/><circle cx="341.96" cy="47.4" r="1.32"/><circle cx="341.96" cy="44.9" r="0.7" opacity="0.35"/></g><g fill="#eeeef6"><circle cx="236.43" cy="44.9" r="0.85"/><circle cx="236.43" cy="40.2" r="0.8"/><circle cx="236.43" cy="49.6" r="0.8"/><circle cx="239.89" cy="44.9" r="0.85"/><circle cx="239.89" cy="40.2" r="0.8"/><circle cx="239.89" cy="49.6" r="0.8"/><circle cx="243.35" cy="44.9" r="0.85"/><circle cx="243.35" cy="40.2" r="0.8"/><circle cx="243.35" cy="49.6" r="0.8"/><circle cx="246.81" cy="44.9" r="0.85"/><circle cx="246.81" cy="40.2" r="0.8"/><circle cx="246.81" cy="49.6" r="0.8"/><circle cx="250.27" cy="44.9" r="0.85"/><circle cx="250.27" cy="40.2" r="0.8"/><circle cx="250.27" cy="49.6" r="0.8"/><circle cx="253.73" cy="44.9" r="0.85"/><circle cx="253.73" cy="40.2" r="0.8"/><circle cx="253.73" cy="49.6" r="0.8"/><circle cx="257.19" cy="44.9" r="0.85"/><circle cx="257.19" cy="40.2" r="0.8"/><circle cx="257.19" cy="49.6" r="0.8"/><circle cx="260.65" cy="44.9" r="0.85"/><circle cx="260.65" cy="40.2" r="0.8"/><circle cx="260.65" cy="49.6" r="0.8"/><circle cx="264.11" cy="44.9" r="0.85"/><circle cx="264.11" cy="40.2" r="0.8"/><circle cx="264.11" cy="49.6" r="0.8"/><circle cx="267.57" cy="44.9" r="0.85"/><circle cx="267.57" cy="40.2" r="0.8"/><circle cx="267.57" cy="49.6" r="0.8"/><circle cx="271.03" cy="44.9" r="0.85"/><circle cx="271.03" cy="40.2" r="0.8"/><circle cx="271.03" cy="49.6" r="0.8"/><circle cx="274.49" cy="44.9" r="0.85"/><circle cx="274.49" cy="40.2" r="0.8"/><circle cx="274.49" cy="49.6" r="0.8"/><circle cx="277.95" cy="44.9" r="0.85"/><circle cx="277.95" cy="40.2" r="0.8"/><circle cx="277.95" cy="49.6" r="0.8"/><circle cx="281.41" cy="44.9" r="0.85"/><circle cx="281.41" cy="40.2" r="0.8"/><circle cx="281.41" cy="49.6" r="0.8"/><circle cx="284.87" cy="44.9" r="0.85"/><circle cx="284.87" cy="40.2" r="0.8"/><circle cx="284.87" cy="49.6" r="0.8"/><circle cx="288.33" cy="44.9" r="0.85"/><circle cx="288.33" cy="40.2" r="0.8"/><circle cx="288.33" cy="49.6" r="0.8"/><circle cx="291.79" cy="44.9" r="0.85"/><circle cx="291.79" cy="40.2" r="0.8"/><circle cx="291.79" cy="49.6" r="0.8"/><circle cx="295.25" cy="44.9" r="0.85"/><circle cx="295.25" cy="40.2" r="0.8"/><circle cx="295.25" cy="49.6" r="0.8"/><circle cx="298.71" cy="44.9" r="0.85"/><circle cx="298.71" cy="40.2" r="0.8"/><circle cx="298.71" cy="49.6" r="0.8"/><circle cx="302.17" cy="44.9" r="0.85"/><circle cx="302.17" cy="40.2" r="0.8"/><circle cx="302.17" cy="49.6" r="0.8"/><circle cx="305.63" cy="44.9" r="0.85"/><circle cx="305.63" cy="40.2" r="0.8"/><circle cx="305.63" cy="49.6" r="0.8"/><circle cx="309.09" cy="44.9" r="0.85"/><circle cx="309.09" cy="40.2" r="0.8"/><circle cx="309.09" cy="49.6" r="0.8"/><circle cx="312.55" cy="44.9" r="0.85"/><circle cx="312.55" cy="40.2" r="0.8"/><circle cx="312.55" cy="49.6" r="0.8"/><circle cx="316.01" cy="44.9" r="0.85"/><circle cx="316.01" cy="40.2" r="0.8"/><circle cx="316.01" cy="49.6" r="0.8"/><circle cx="319.47" cy="44.9" r="0.85"/><circle cx="319.47" cy="40.2" r="0.8"/><circle cx="319.47" cy="49.6" r="0.8"/><circle cx="322.93" cy="44.9" r="0.85"/><circle cx="322.93" cy="40.2" r="0.8"/><circle cx="322.93" cy="49.6" r="0.8"/><circle cx="326.39" cy="44.9" r="0.85"/><circle cx="326.39" cy="40.2" r="0.8"/><circle cx="326.39" cy="49.6" r="0.8"/><circle cx="329.85" cy="44.9" r="0.85"/><circle cx="329.85" cy="40.2" r="0.8"/><circle cx="329.85" cy="49.6" r="0.8"/><circle cx="333.31" cy="44.9" r="0.85"/><circle cx="333.31" cy="40.2" r="0.8"/><circle cx="333.31" cy="49.6" r="0.8"/><circle cx="336.77" cy="44.9" r="0.85"/><circle cx="336.77" cy="40.2" r="0.8"/><circle cx="336.77" cy="49.6" r="0.8"/><circle cx="340.23" cy="44.9" r="0.85"/><circle cx="340.23" cy="40.2" r="0.8"/><circle cx="340.23" cy="49.6" r="0.8"/></g>
<rect x="232.9" y="78.1" width="111.2" height="9.2" rx="1.6" fill="#2a2a70"/><g fill="#8383d2"><circle cx="234.70" cy="80.2" r="1.32"/><circle cx="234.70" cy="85.2" r="1.32"/><circle cx="234.70" cy="82.7" r="0.7" opacity="0.35"/><circle cx="238.16" cy="80.2" r="1.32"/><circle cx="238.16" cy="85.2" r="1.32"/><circle cx="238.16" cy="82.7" r="0.7" opacity="0.35"/><circle cx="241.62" cy="80.2" r="1.32"/><circle cx="241.62" cy="85.2" r="1.32"/><circle cx="241.62" cy="82.7" r="0.7" opacity="0.35"/><circle cx="245.08" cy="80.2" r="1.32"/><circle cx="245.08" cy="85.2" r="1.32"/><circle cx="245.08" cy="82.7" r="0.7" opacity="0.35"/><circle cx="248.54" cy="80.2" r="1.32"/><circle cx="248.54" cy="85.2" r="1.32"/><circle cx="248.54" cy="82.7" r="0.7" opacity="0.35"/><circle cx="252.00" cy="80.2" r="1.32"/><circle cx="252.00" cy="85.2" r="1.32"/><circle cx="252.00" cy="82.7" r="0.7" opacity="0.35"/><circle cx="255.46" cy="80.2" r="1.32"/><circle cx="255.46" cy="85.2" r="1.32"/><circle cx="255.46" cy="82.7" r="0.7" opacity="0.35"/><circle cx="258.92" cy="80.2" r="1.32"/><circle cx="258.92" cy="85.2" r="1.32"/><circle cx="258.92" cy="82.7" r="0.7" opacity="0.35"/><circle cx="262.38" cy="80.2" r="1.32"/><circle cx="262.38" cy="85.2" r="1.32"/><circle cx="262.38" cy="82.7" r="0.7" opacity="0.35"/><circle cx="265.84" cy="80.2" r="1.32"/><circle cx="265.84" cy="85.2" r="1.32"/><circle cx="265.84" cy="82.7" r="0.7" opacity="0.35"/><circle cx="269.30" cy="80.2" r="1.32"/><circle cx="269.30" cy="85.2" r="1.32"/><circle cx="269.30" cy="82.7" r="0.7" opacity="0.35"/><circle cx="272.76" cy="80.2" r="1.32"/><circle cx="272.76" cy="85.2" r="1.32"/><circle cx="272.76" cy="82.7" r="0.7" opacity="0.35"/><circle cx="276.22" cy="80.2" r="1.32"/><circle cx="276.22" cy="85.2" r="1.32"/><circle cx="276.22" cy="82.7" r="0.7" opacity="0.35"/><circle cx="279.68" cy="80.2" r="1.32"/><circle cx="279.68" cy="85.2" r="1.32"/><circle cx="279.68" cy="82.7" r="0.7" opacity="0.35"/><circle cx="283.14" cy="80.2" r="1.32"/><circle cx="283.14" cy="85.2" r="1.32"/><circle cx="283.14" cy="82.7" r="0.7" opacity="0.35"/><circle cx="286.60" cy="80.2" r="1.32"/><circle cx="286.60" cy="85.2" r="1.32"/><circle cx="286.60" cy="82.7" r="0.7" opacity="0.35"/><circle cx="290.06" cy="80.2" r="1.32"/><circle cx="290.06" cy="85.2" r="1.32"/><circle cx="290.06" cy="82.7" r="0.7" opacity="0.35"/><circle cx="293.52" cy="80.2" r="1.32"/><circle cx="293.52" cy="85.2" r="1.32"/><circle cx="293.52" cy="82.7" r="0.7" opacity="0.35"/><circle cx="296.98" cy="80.2" r="1.32"/><circle cx="296.98" cy="85.2" r="1.32"/><circle cx="296.98" cy="82.7" r="0.7" opacity="0.35"/><circle cx="300.44" cy="80.2" r="1.32"/><circle cx="300.44" cy="85.2" r="1.32"/><circle cx="300.44" cy="82.7" r="0.7" opacity="0.35"/><circle cx="303.90" cy="80.2" r="1.32"/><circle cx="303.90" cy="85.2" r="1.32"/><circle cx="303.90" cy="82.7" r="0.7" opacity="0.35"/><circle cx="307.36" cy="80.2" r="1.32"/><circle cx="307.36" cy="85.2" r="1.32"/><circle cx="307.36" cy="82.7" r="0.7" opacity="0.35"/><circle cx="310.82" cy="80.2" r="1.32"/><circle cx="310.82" cy="85.2" r="1.32"/><circle cx="310.82" cy="82.7" r="0.7" opacity="0.35"/><circle cx="314.28" cy="80.2" r="1.32"/><circle cx="314.28" cy="85.2" r="1.32"/><circle cx="314.28" cy="82.7" r="0.7" opacity="0.35"/><circle cx="317.74" cy="80.2" r="1.32"/><circle cx="317.74" cy="85.2" r="1.32"/><circle cx="317.74" cy="82.7" r="0.7" opacity="0.35"/><circle cx="321.20" cy="80.2" r="1.32"/><circle cx="321.20" cy="85.2" r="1.32"/><circle cx="321.20" cy="82.7" r="0.7" opacity="0.35"/><circle cx="324.66" cy="80.2" r="1.32"/><circle cx="324.66" cy="85.2" r="1.32"/><circle cx="324.66" cy="82.7" r="0.7" opacity="0.35"/><circle cx="328.12" cy="80.2" r="1.32"/><circle cx="328.12" cy="85.2" r="1.32"/><circle cx="328.12" cy="82.7" r="0.7" opacity="0.35"/><circle cx="331.58" cy="80.2" r="1.32"/><circle cx="331.58" cy="85.2" r="1.32"/><circle cx="331.58" cy="82.7" r="0.7" opacity="0.35"/><circle cx="335.04" cy="80.2" r="1.32"/><circle cx="335.04" cy="85.2" r="1.32"/><circle cx="335.04" cy="82.7" r="0.7" opacity="0.35"/><circle cx="338.50" cy="80.2" r="1.32"/><circle cx="338.50" cy="85.2" r="1.32"/><circle cx="338.50" cy="82.7" r="0.7" opacity="0.35"/><circle cx="341.96" cy="80.2" r="1.32"/><circle cx="341.96" cy="85.2" r="1.32"/><circle cx="341.96" cy="82.7" r="0.7" opacity="0.35"/></g><g fill="#eeeef6"><circle cx="236.43" cy="82.7" r="0.85"/><circle cx="236.43" cy="78.0" r="0.8"/><circle cx="236.43" cy="87.4" r="0.8"/><circle cx="239.89" cy="82.7" r="0.85"/><circle cx="239.89" cy="78.0" r="0.8"/><circle cx="239.89" cy="87.4" r="0.8"/><circle cx="243.35" cy="82.7" r="0.85"/><circle cx="243.35" cy="78.0" r="0.8"/><circle cx="243.35" cy="87.4" r="0.8"/><circle cx="246.81" cy="82.7" r="0.85"/><circle cx="246.81" cy="78.0" r="0.8"/><circle cx="246.81" cy="87.4" r="0.8"/><circle cx="250.27" cy="82.7" r="0.85"/><circle cx="250.27" cy="78.0" r="0.8"/><circle cx="250.27" cy="87.4" r="0.8"/><circle cx="253.73" cy="82.7" r="0.85"/><circle cx="253.73" cy="78.0" r="0.8"/><circle cx="253.73" cy="87.4" r="0.8"/><circle cx="257.19" cy="82.7" r="0.85"/><circle cx="257.19" cy="78.0" r="0.8"/><circle cx="257.19" cy="87.4" r="0.8"/><circle cx="260.65" cy="82.7" r="0.85"/><circle cx="260.65" cy="78.0" r="0.8"/><circle cx="260.65" cy="87.4" r="0.8"/><circle cx="264.11" cy="82.7" r="0.85"/><circle cx="264.11" cy="78.0" r="0.8"/><circle cx="264.11" cy="87.4" r="0.8"/><circle cx="267.57" cy="82.7" r="0.85"/><circle cx="267.57" cy="78.0" r="0.8"/><circle cx="267.57" cy="87.4" r="0.8"/><circle cx="271.03" cy="82.7" r="0.85"/><circle cx="271.03" cy="78.0" r="0.8"/><circle cx="271.03" cy="87.4" r="0.8"/><circle cx="274.49" cy="82.7" r="0.85"/><circle cx="274.49" cy="78.0" r="0.8"/><circle cx="274.49" cy="87.4" r="0.8"/><circle cx="277.95" cy="82.7" r="0.85"/><circle cx="277.95" cy="78.0" r="0.8"/><circle cx="277.95" cy="87.4" r="0.8"/><circle cx="281.41" cy="82.7" r="0.85"/><circle cx="281.41" cy="78.0" r="0.8"/><circle cx="281.41" cy="87.4" r="0.8"/><circle cx="284.87" cy="82.7" r="0.85"/><circle cx="284.87" cy="78.0" r="0.8"/><circle cx="284.87" cy="87.4" r="0.8"/><circle cx="288.33" cy="82.7" r="0.85"/><circle cx="288.33" cy="78.0" r="0.8"/><circle cx="288.33" cy="87.4" r="0.8"/><circle cx="291.79" cy="82.7" r="0.85"/><circle cx="291.79" cy="78.0" r="0.8"/><circle cx="291.79" cy="87.4" r="0.8"/><circle cx="295.25" cy="82.7" r="0.85"/><circle cx="295.25" cy="78.0" r="0.8"/><circle cx="295.25" cy="87.4" r="0.8"/><circle cx="298.71" cy="82.7" r="0.85"/><circle cx="298.71" cy="78.0" r="0.8"/><circle cx="298.71" cy="87.4" r="0.8"/><circle cx="302.17" cy="82.7" r="0.85"/><circle cx="302.17" cy="78.0" r="0.8"/><circle cx="302.17" cy="87.4" r="0.8"/><circle cx="305.63" cy="82.7" r="0.85"/><circle cx="305.63" cy="78.0" r="0.8"/><circle cx="305.63" cy="87.4" r="0.8"/><circle cx="309.09" cy="82.7" r="0.85"/><circle cx="309.09" cy="78.0" r="0.8"/><circle cx="309.09" cy="87.4" r="0.8"/><circle cx="312.55" cy="82.7" r="0.85"/><circle cx="312.55" cy="78.0" r="0.8"/><circle cx="312.55" cy="87.4" r="0.8"/><circle cx="316.01" cy="82.7" r="0.85"/><circle cx="316.01" cy="78.0" r="0.8"/><circle cx="316.01" cy="87.4" r="0.8"/><circle cx="319.47" cy="82.7" r="0.85"/><circle cx="319.47" cy="78.0" r="0.8"/><circle cx="319.47" cy="87.4" r="0.8"/><circle cx="322.93" cy="82.7" r="0.85"/><circle cx="322.93" cy="78.0" r="0.8"/><circle cx="322.93" cy="87.4" r="0.8"/><circle cx="326.39" cy="82.7" r="0.85"/><circle cx="326.39" cy="78.0" r="0.8"/><circle cx="326.39" cy="87.4" r="0.8"/><circle cx="329.85" cy="82.7" r="0.85"/><circle cx="329.85" cy="78.0" r="0.8"/><circle cx="329.85" cy="87.4" r="0.8"/><circle cx="333.31" cy="82.7" r="0.85"/><circle cx="333.31" cy="78.0" r="0.8"/><circle cx="333.31" cy="87.4" r="0.8"/><circle cx="336.77" cy="82.7" r="0.85"/><circle cx="336.77" cy="78.0" r="0.8"/><circle cx="336.77" cy="87.4" r="0.8"/><circle cx="340.23" cy="82.7" r="0.85"/><circle cx="340.23" cy="78.0" r="0.8"/><circle cx="340.23" cy="87.4" r="0.8"/></g>
<path d="M233.3 50.2H347.3V11.3H372.3V50.2H387V77.7H233.3Z" fill="#bf97d2" stroke="#2c2c78" stroke-width="0.7"/>
<path d="M233.5 53.8H351.8V11.5H368.8V53.8H386.8V74.3H233.5Z" fill="#96cc82" stroke="#2c2c78" stroke-width="0.4"/>
<path d="M233.5 62.9H359V11.5H361.6V62.9H386.8V66.3H233.5Z" fill="#bf97d2" stroke="#2c2c78" stroke-width="0.4"/>
<rect x="240.6" y="57.3" width="95.8" height="5.0" fill="#f8d679" stroke="#3a3f5a" stroke-width="0.55"/>
<path d="M245.37 57.5V62.099999999999994M250.17 57.5V62.099999999999994M254.97 57.5V62.099999999999994M259.77 57.5V62.099999999999994M264.57 57.5V62.099999999999994M269.37 57.5V62.099999999999994M274.17 57.5V62.099999999999994M278.97 57.5V62.099999999999994M283.77 57.5V62.099999999999994M288.57 57.5V62.099999999999994M293.37 57.5V62.099999999999994M298.17 57.5V62.099999999999994M302.97 57.5V62.099999999999994M307.77 57.5V62.099999999999994M312.57 57.5V62.099999999999994M317.37 57.5V62.099999999999994M322.17 57.5V62.099999999999994M326.97 57.5V62.099999999999994M331.77 57.5V62.099999999999994" stroke="#6a5c2c" stroke-width="0.6" fill="none" opacity="0.85"/>
<rect x="240.6" y="66.8" width="95.8" height="4.9" fill="#f8d679" stroke="#3a3f5a" stroke-width="0.55"/>
<path d="M245.37 67.0V71.5M250.17 67.0V71.5M254.97 67.0V71.5M259.77 67.0V71.5M264.57 67.0V71.5M269.37 67.0V71.5M274.17 67.0V71.5M278.97 67.0V71.5M283.77 67.0V71.5M288.57 67.0V71.5M293.37 67.0V71.5M298.17 67.0V71.5M302.97 67.0V71.5M307.77 67.0V71.5M312.57 67.0V71.5M317.37 67.0V71.5M322.17 67.0V71.5M326.97 67.0V71.5M331.77 67.0V71.5" stroke="#6a5c2c" stroke-width="0.6" fill="none" opacity="0.85"/>
<path d="M259.3 19.4L265.7 19.1C267.2 18.6 267.8 10 268.2 3.8C268.8 8 269.2 10.5 269.9 12.3C271.5 16 274 18.2 276.5 19C280 20 284 20.3 288.5 20.3Z" fill="#f0f0fa" stroke="#8e90d2" stroke-width="0.5" stroke-linejoin="round"/>
<path d="M263.8 22.9L270.8 23.1C271.6 25 272 32 272.3 38.1C272.7 35 273 33 273.5 31.4C274.6 28.6 277 25.6 280.3 24.2C284 23 288 22.2 292.3 21.6Z" fill="#f0f0fa" stroke="#8e90d2" stroke-width="0.5" stroke-linejoin="round"/>
<path d="M251 21H298" stroke="#b5dc9a" stroke-width="0.5" stroke-dasharray="0.6 0.7" fill="none"/>
<path d="M297.9 20.3H303.6V19.6L306 20.9L303.6 22.2V21.5H297.9Z" fill="#7fbf62"/>
<path d="M306.5 26.6H313.9C314.3 24 314.5 16 314.8 11C315.2 16 316 24 316.9 27.5C317.8 26.8 319.5 25.4 320.5 25.6C321 25.8 321.3 26.4 321.7 26.6" fill="none" stroke="#8e90d2" stroke-width="0.55" stroke-linejoin="round"/>
<g fill="none" stroke-linejoin="round" stroke-linecap="butt">
<polyline points="75.5,219.1 90.0,218.2 100.0,217.2 106.0,216.5 109.0,214.5 112.0,206.0 114.0,197.0 116.2,186.0 118.5,172.0 120.5,160.0 122.0,151.5 123.2,148.0 124.4,151.5 125.8,162.0 127.2,175.0 128.6,186.0 129.8,195.0 131.2,202.0 133.5,209.0 136.2,214.1 139.0,216.5 142.3,218.1 146.3,219.8 150.0,220.6 156.3,220.5 162.0,221.5 166.0,222.5 172.0,222.3 180.0,221.8 190.0,221.6 200.0,221.9 210.0,221.7 218.3,221.6" stroke="#fbcf8d" stroke-width="0.8"/>
<polyline points="75.5,221.0 130.0,221.0 140.0,220.5 143.3,221.0 146.3,221.6 148.7,218.6 150.7,221.0 152.3,218.2 154.3,224.7 155.6,218.5 156.6,190.0 157.6,160.0 158.4,149.9 159.5,155.0 161.1,163.1 162.1,166.1 163.5,171.5 165.1,177.1 167.0,183.5 169.7,190.0 172.5,197.0 176.1,204.1 180.0,209.0 185.2,213.6 190.0,217.0 194.2,219.6 198.0,220.8 205.0,221.1 218.3,221.0" stroke="#93cf7e" stroke-width="0.8"/>
<polyline points="75.5,220.2 100.0,220.4 110.0,220.0 120.0,219.3 130.0,218.6 140.0,217.9 152.3,217.1 154.5,217.9 155.5,215.4 156.3,190.0 157.3,160.0 158.2,149.5 159.3,154.0 161.0,162.5 163.5,171.0 165.1,176.5 167.0,183.0 169.7,189.7 172.5,196.7 176.1,203.8 180.0,208.7 185.2,213.3 190.0,216.7 194.2,219.3 198.0,220.4 205.0,220.7 218.3,220.7" stroke="#6068c4" stroke-width="0.8" stroke-dasharray="3.1 2.9"/>
<polyline points="237.5,213.0 257.0,213.0 258.0,213.0 260.5,211.7 263.1,213.3 266.1,210.5 269.1,214.5 270.5,208.0 272.1,192.0 273.8,180.0 275.3,160.0 276.8,149.0 278.3,158.0 280.0,170.0 281.8,180.0 283.5,187.5 285.2,194.0 287.5,201.5 289.5,207.0 291.2,210.1 294.5,211.8 298.2,212.5 304.3,212.1 310.0,211.1 316.3,210.5 320.1,210.1 327.1,209.7 330.1,206.1 332.0,201.5 334.1,196.0 336.2,190.5 338.2,188.1 339.8,190.0 341.2,194.0 343.5,197.3 346.2,200.1 349.0,202.5 352.2,205.1 354.8,207.8 357.2,209.7 360.5,209.4 364.3,209.1 368.0,209.5 372.3,210.1 375.0,211.1 377.3,211.5 379.0,210.9 380.4,210.1" stroke="#93cf7e" stroke-width="0.8"/>
<polyline points="237.5,213.0 257.0,213.0 258.0,213.0 260.5,211.7 263.1,213.3 266.1,210.5 269.1,214.5 270.5,208.0 272.1,192.0 273.8,180.0 275.3,160.0 276.8,148.3 278.4,158.0 280.2,170.0 282.0,180.0 283.7,187.5 285.4,194.0 288.0,202.0 291.0,208.5 293.5,212.5 296.2,216.1 300.0,218.8 304.3,221.2 307.3,222.6 310.0,222.6 314.0,221.1 320.0,218.1 324.0,215.8 328.1,213.1 330.3,210.0 332.1,206.1 334.2,200.0 336.1,194.0 337.8,191.0 339.5,192.0 341.2,195.0 343.5,197.8 346.2,200.5 349.0,203.0 352.2,205.5 354.8,208.0 357.2,209.9 360.5,211.0 364.3,212.1 367.5,213.5 370.3,214.7 375.0,215.6 380.4,216.1" stroke="#fbcf8d" stroke-width="0.8" stroke-dasharray="2.4 2.6"/>
<polyline points="237.5,213.0 257.0,213.0 258.0,213.0 260.5,211.7 263.1,213.3 266.1,210.5 269.1,214.5 270.5,208.0 272.1,192.0 273.8,180.0 275.3,160.0 276.4,149.3 277.8,165.0 279.2,180.0 280.2,187.0 281.2,194.0 283.2,201.5 285.2,208.1 287.0,214.5 288.6,220.2 290.6,225.2 292.3,226.5 294.2,227.2 296.2,228.4 298.2,229.2 300.0,229.3 302.3,228.8 305.0,227.8 308.3,226.2 310.0,224.2 316.3,220.5 320.0,217.1 324.0,214.3 327.1,212.1 328.8,208.5 330.1,204.1 331.2,198.0 332.1,192.0 333.1,185.5 334.1,182.1 335.3,183.0 336.7,186.0 338.2,190.0 339.7,195.5 341.2,201.1 343.2,206.5 345.2,211.1 347.2,213.8 349.2,215.7 351.7,217.5 354.2,219.1 356.7,221.0 359.2,222.5 361.7,223.4 364.3,223.8 367.3,223.4 370.3,222.5 374.0,221.3 377.3,220.1 379.0,218.5 380.4,216.8" stroke="#6068c4" stroke-width="0.8" stroke-dasharray="2.4 2.6"/>
<path d="M163.1 144.1H184.4" stroke="#fbcf8d" stroke-width="0.8"/>
<path d="M163.1 150.7H184.4" stroke="#93cf7e" stroke-width="0.8"/>
<path d="M163.1 157.2H184.4" stroke="#6068c4" stroke-width="0.8" stroke-dasharray="2.9 3.1"/>
<path d="M340.8 143.7H361.4" stroke="#93cf7e" stroke-width="0.8"/>
<path d="M340.8 150.3H361.4" stroke="#fbcf8d" stroke-width="0.8" stroke-dasharray="2.5 3.3"/>
<path d="M340.8 156.7H361.4" stroke="#6068c4" stroke-width="0.8" stroke-dasharray="2.5 3.3"/>
</g>
<g fill="none" stroke="#404040" stroke-width="1.1">
<rect x="75.5" y="135.3" width="142.7" height="100.79999999999998"/>
<rect x="237.5" y="135.1" width="142.9" height="101.0"/>
</g>
<path d="M99.4 236.1v-1.7 M123.3 236.1v-1.7 M147.2 236.1v-1.7 M171.1 236.1v-1.7 M195.0 236.1v-1.7 M75.5 219.8h1.7 M75.5 203.5h1.7 M75.5 187.2h1.7 M75.5 170.8h1.7 M75.5 154.5h1.7 M75.5 138.2h1.7 M255.4 236.1v-1.7 M273.4 236.1v-1.7 M291.3 236.1v-1.7 M309.2 236.1v-1.7 M327.1 236.1v-1.7 M345.1 236.1v-1.7 M363.0 236.1v-1.7 M237.5 232.5h1.7 M237.5 213.0h1.7 M237.5 193.5h1.7 M237.5 173.9h1.7 M237.5 154.4h1.7" stroke="#404040" stroke-width="0.8" fill="none"/>
<g text-rendering="geometricPrecision" font-family="'Liberation Serif',serif" font-size="5.9" fill="#1e1e1e">
<text x="75.5" y="243.25" text-anchor="middle">0</text>
<text x="99.4" y="243.25" text-anchor="middle">10</text>
<text x="123.3" y="243.25" text-anchor="middle">20</text>
<text x="147.2" y="243.25" text-anchor="middle">30</text>
<text x="171.1" y="243.25" text-anchor="middle">40</text>
<text x="195.0" y="243.25" text-anchor="middle">50</text>
<text x="218.9" y="243.25" text-anchor="middle">60</text>
<text x="74.3" y="238.0" text-anchor="end">-5</text>
<text x="74.3" y="221.7" text-anchor="end">0</text>
<text x="74.3" y="205.4" text-anchor="end">5</text>
<text x="74.3" y="189.1" text-anchor="end">10</text>
<text x="74.3" y="172.7" text-anchor="end">15</text>
<text x="74.3" y="156.4" text-anchor="end">20</text>
<text x="74.3" y="140.1" text-anchor="end">25</text>
<text x="237.5" y="243.25" text-anchor="middle">0</text>
<text x="255.4" y="243.25" text-anchor="middle">5</text>
<text x="273.4" y="243.25" text-anchor="middle">10</text>
<text x="291.3" y="243.25" text-anchor="middle">15</text>
<text x="309.2" y="243.25" text-anchor="middle">20</text>
<text x="327.1" y="243.25" text-anchor="middle">25</text>
<text x="345.1" y="243.25" text-anchor="middle">30</text>
<text x="363.0" y="243.25" text-anchor="middle">35</text>
<text x="380.9" y="243.25" text-anchor="middle">40</text>
<text x="236.3" y="234.4" text-anchor="end">-5</text>
<text x="236.3" y="214.9" text-anchor="end">0</text>
<text x="236.3" y="195.4" text-anchor="end">5</text>
<text x="236.3" y="175.8" text-anchor="end">10</text>
<text x="236.3" y="156.3" text-anchor="end">15</text>
<text x="236.3" y="136.8" text-anchor="end">20</text>
</g>
<g text-rendering="geometricPrecision" font-family="'Liberation Serif',serif" font-size="6.35" fill="#1e1e1e">
<text x="147" y="250.2" text-anchor="middle">Time (ns)</text>
<text x="309" y="250.2" text-anchor="middle">Time (ns)</text>
<text transform="translate(66.2 185.8) rotate(-90)" text-anchor="middle">Voltage (kV)</text>
<text transform="translate(228.5 185.8) rotate(-90)" text-anchor="middle">Voltage (kV)</text>
</g>
<g text-rendering="geometricPrecision" font-family="'Liberation Serif',serif" font-size="5.2" fill="#1e1e1e">
<text x="186.3" y="146.0">Input</text>
<text x="186.3" y="152.6">Experiment</text>
<text x="186.3" y="159.1">Simulation</text>
<text x="363.9" y="145.6">15Ω</text>
<text x="363.9" y="152.2">5Ω</text>
<text x="363.9" y="158.6">0Ω</text>
</g>
</svg>
</body></html>
